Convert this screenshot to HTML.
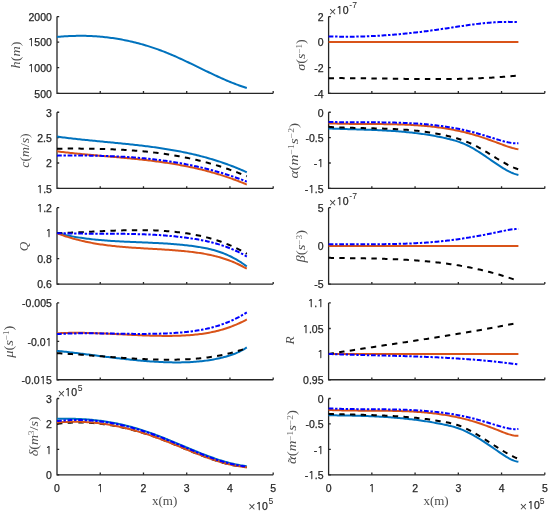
<!DOCTYPE html>
<html><head><meta charset="utf-8"><title>figure</title>
<style>
html,body{margin:0;padding:0;background:#fff;}
svg{display:block;}
.tk{font-family:"Liberation Sans",Arial,sans-serif;font-size:10.50px;fill:#262626;stroke:#262626;stroke-width:0.25px;}
.ex{font-family:"Liberation Sans",Arial,sans-serif;font-size:12.5px;fill:#444;}
.es{font-family:"Liberation Sans",Arial,sans-serif;font-size:8.6px;fill:#262626;}
.yl{font-family:"Liberation Serif","Times New Roman",serif;font-size:13.50px;fill:#4d4d4d;}
.yl .i{font-style:italic;}
.yl .s2{font-size:8.5px;fill:#6a6a6a;}
.n1{font-family:"NanumGothic","Liberation Sans",sans-serif;}
.xl{font-family:"Liberation Serif","Times New Roman",serif;font-size:13px;fill:#4d4d4d;}
</style></head>
<body>
<svg width="550" height="514" viewBox="0 0 550 514">
<rect width="550" height="514" fill="#fff"/>
<path d="M57.00,16.56 L57.00,93.30 L273.20,93.30" fill="none" stroke="#262626" stroke-width="1.30"/>
<path d="M57.00,93.30 h2.2 M57.00,67.72 h2.2 M57.00,42.14 h2.2 M57.00,16.56 h2.2 M100.24,93.30 v-2.2 M143.48,93.30 v-2.2 M186.72,93.30 v-2.2 M229.96,93.30 v-2.2 M273.20,93.30 v-2.2" fill="none" stroke="#262626" stroke-width="1.30"/>
<text class="tk" x="51.90" y="97.60" text-anchor="end">500</text>
<text class="tk" x="51.90" y="72.02" text-anchor="end"><tspan class="n1">1</tspan>000</text>
<text class="tk" x="51.90" y="46.44" text-anchor="end"><tspan class="n1">1</tspan>500</text>
<text class="tk" x="51.90" y="20.86" text-anchor="end">2000</text>
<path d="M57.00,37.01 L58.51,36.87 L60.01,36.73 L61.52,36.60 L63.03,36.48 L64.53,36.37 L66.04,36.27 L67.54,36.18 L69.05,36.10 L70.56,36.03 L72.06,35.97 L73.57,35.92 L75.08,35.88 L76.58,35.85 L78.09,35.83 L79.60,35.82 L81.10,35.81 L82.61,35.82 L84.11,35.84 L85.62,35.87 L87.13,35.91 L88.63,35.95 L90.14,36.01 L91.65,36.08 L93.15,36.16 L94.66,36.25 L96.17,36.35 L97.67,36.45 L99.18,36.57 L100.68,36.70 L102.19,36.84 L103.70,36.99 L105.20,37.15 L106.71,37.32 L108.22,37.50 L109.72,37.69 L111.23,37.89 L112.73,38.10 L114.24,38.33 L115.75,38.56 L117.25,38.80 L118.76,39.05 L120.27,39.32 L121.77,39.59 L123.28,39.88 L124.79,40.17 L126.29,40.48 L127.80,40.80 L129.30,41.12 L130.81,41.46 L132.32,41.81 L133.82,42.17 L135.33,42.54 L136.84,42.92 L138.34,43.31 L139.85,43.72 L141.36,44.13 L142.86,44.56 L144.37,44.99 L145.87,45.44 L147.38,45.90 L148.89,46.36 L150.39,46.84 L151.90,47.33 L153.41,47.84 L154.91,48.35 L156.42,48.87 L157.93,49.41 L159.43,49.95 L160.94,50.51 L162.44,51.08 L163.95,51.66 L165.46,52.25 L166.96,52.86 L168.47,53.47 L169.98,54.09 L171.48,54.73 L172.99,55.38 L174.50,56.03 L176.00,56.70 L177.51,57.37 L179.01,58.05 L180.52,58.74 L182.03,59.43 L183.53,60.14 L185.04,60.84 L186.55,61.56 L188.05,62.27 L189.56,62.99 L191.07,63.72 L192.57,64.45 L194.08,65.17 L195.58,65.91 L197.09,66.64 L198.60,67.37 L200.10,68.11 L201.61,68.84 L203.12,69.57 L204.62,70.30 L206.13,71.03 L207.63,71.76 L209.14,72.48 L210.65,73.20 L212.15,73.92 L213.66,74.63 L215.17,75.33 L216.67,76.03 L218.18,76.73 L219.69,77.41 L221.19,78.09 L222.70,78.76 L224.20,79.42 L225.71,80.07 L227.22,80.72 L228.72,81.35 L230.23,81.97 L231.74,82.58 L233.24,83.18 L234.75,83.76 L236.26,84.33 L237.76,84.89 L239.27,85.44 L240.77,85.97 L242.28,86.48 L243.79,86.98 L245.29,87.46 L246.80,87.92" fill="none" stroke="#0072BD" stroke-width="2.00"/>
<path d="M328.60,16.56 L328.60,93.30 L544.80,93.30" fill="none" stroke="#262626" stroke-width="1.30"/>
<path d="M328.60,93.30 h2.2 M328.60,67.72 h2.2 M328.60,42.14 h2.2 M328.60,16.56 h2.2 M371.84,93.30 v-2.2 M415.08,93.30 v-2.2 M458.32,93.30 v-2.2 M501.56,93.30 v-2.2 M544.80,93.30 v-2.2" fill="none" stroke="#262626" stroke-width="1.30"/>
<text class="tk" x="323.50" y="97.60" text-anchor="end">-4</text>
<text class="tk" x="323.50" y="72.02" text-anchor="end">-2</text>
<text class="tk" x="323.50" y="46.44" text-anchor="end">0</text>
<text class="tk" x="323.50" y="20.86" text-anchor="end">2</text>
<path d="M328.60,42.05 L518.40,42.05" fill="none" stroke="#D95319" stroke-width="2.00"/>
<path d="M328.60,78.16 L330.11,78.15 L331.61,78.14 L333.12,78.13 L334.63,78.13 L336.13,78.12 L337.64,78.12 L339.14,78.12 L340.65,78.12 L342.16,78.12 L343.66,78.13 L345.17,78.13 L346.68,78.14 L348.18,78.15 L349.69,78.15 L351.20,78.16 L352.70,78.18 L354.21,78.19 L355.71,78.20 L357.22,78.21 L358.73,78.23 L360.23,78.24 L361.74,78.26 L363.25,78.28 L364.75,78.30 L366.26,78.31 L367.77,78.33 L369.27,78.35 L370.78,78.37 L372.28,78.40 L373.79,78.42 L375.30,78.44 L376.80,78.46 L378.31,78.48 L379.82,78.51 L381.32,78.53 L382.83,78.55 L384.33,78.57 L385.84,78.60 L387.35,78.62 L388.85,78.64 L390.36,78.67 L391.87,78.69 L393.37,78.71 L394.88,78.74 L396.39,78.76 L397.89,78.78 L399.40,78.80 L400.90,78.82 L402.41,78.85 L403.92,78.87 L405.42,78.89 L406.93,78.91 L408.44,78.92 L409.94,78.94 L411.45,78.96 L412.96,78.98 L414.46,78.99 L415.97,79.01 L417.47,79.02 L418.98,79.04 L420.49,79.05 L421.99,79.06 L423.50,79.07 L425.01,79.08 L426.51,79.09 L428.02,79.09 L429.53,79.10 L431.03,79.10 L432.54,79.10 L434.04,79.11 L435.55,79.10 L437.06,79.10 L438.56,79.10 L440.07,79.09 L441.58,79.09 L443.08,79.08 L444.59,79.07 L446.10,79.06 L447.60,79.04 L449.11,79.03 L450.61,79.01 L452.12,78.99 L453.63,78.97 L455.13,78.95 L456.64,78.92 L458.15,78.89 L459.65,78.86 L461.16,78.83 L462.67,78.80 L464.17,78.76 L465.68,78.72 L467.18,78.68 L468.69,78.64 L470.20,78.59 L471.70,78.54 L473.21,78.49 L474.72,78.43 L476.22,78.38 L477.73,78.32 L479.23,78.25 L480.74,78.19 L482.25,78.12 L483.75,78.05 L485.26,77.97 L486.77,77.89 L488.27,77.81 L489.78,77.73 L491.29,77.64 L492.79,77.55 L494.30,77.46 L495.80,77.36 L497.31,77.26 L498.82,77.16 L500.32,77.05 L501.83,76.94 L503.34,76.83 L504.84,76.71 L506.35,76.59 L507.86,76.46 L509.36,76.33 L510.87,76.20 L512.37,76.07 L513.88,75.93 L515.39,75.78 L516.89,75.63 L518.40,75.48" fill="none" stroke="#000000" stroke-width="2.00" stroke-dasharray="5.4 5.3"/>
<path d="M328.60,36.38 L330.11,36.43 L331.61,36.48 L333.12,36.52 L334.63,36.56 L336.13,36.59 L337.64,36.62 L339.14,36.65 L340.65,36.67 L342.16,36.68 L343.66,36.69 L345.17,36.70 L346.68,36.70 L348.18,36.70 L349.69,36.69 L351.20,36.68 L352.70,36.66 L354.21,36.64 L355.71,36.61 L357.22,36.59 L358.73,36.55 L360.23,36.51 L361.74,36.47 L363.25,36.43 L364.75,36.38 L366.26,36.32 L367.77,36.26 L369.27,36.20 L370.78,36.13 L372.28,36.06 L373.79,35.99 L375.30,35.91 L376.80,35.83 L378.31,35.74 L379.82,35.65 L381.32,35.56 L382.83,35.46 L384.33,35.36 L385.84,35.26 L387.35,35.15 L388.85,35.04 L390.36,34.92 L391.87,34.80 L393.37,34.68 L394.88,34.55 L396.39,34.42 L397.89,34.29 L399.40,34.15 L400.90,34.01 L402.41,33.87 L403.92,33.72 L405.42,33.57 L406.93,33.42 L408.44,33.26 L409.94,33.10 L411.45,32.94 L412.96,32.77 L414.46,32.60 L415.97,32.43 L417.47,32.25 L418.98,32.08 L420.49,31.90 L421.99,31.71 L423.50,31.52 L425.01,31.33 L426.51,31.14 L428.02,30.94 L429.53,30.75 L431.03,30.55 L432.54,30.34 L434.04,30.13 L435.55,29.92 L437.06,29.71 L438.56,29.50 L440.07,29.28 L441.58,29.06 L443.08,28.84 L444.59,28.62 L446.10,28.39 L447.60,28.16 L449.11,27.94 L450.61,27.71 L452.12,27.48 L453.63,27.25 L455.13,27.02 L456.64,26.80 L458.15,26.57 L459.65,26.35 L461.16,26.12 L462.67,25.90 L464.17,25.68 L465.68,25.47 L467.18,25.26 L468.69,25.05 L470.20,24.84 L471.70,24.64 L473.21,24.44 L474.72,24.25 L476.22,24.06 L477.73,23.88 L479.23,23.70 L480.74,23.53 L482.25,23.37 L483.75,23.21 L485.26,23.06 L486.77,22.92 L488.27,22.78 L489.78,22.66 L491.29,22.54 L492.79,22.43 L494.30,22.33 L495.80,22.23 L497.31,22.15 L498.82,22.08 L500.32,22.02 L501.83,21.96 L503.34,21.92 L504.84,21.89 L506.35,21.88 L507.86,21.87 L509.36,21.88 L510.87,21.89 L512.37,21.93 L513.88,21.97 L515.39,22.03 L516.89,22.10 L518.40,22.19" fill="none" stroke="#0000FF" stroke-width="2.00" stroke-dasharray="4.8 1.7 2.4 1.7"/>
<path d="M57.00,112.26 L57.00,188.40 L273.20,188.40" fill="none" stroke="#262626" stroke-width="1.30"/>
<path d="M57.00,188.40 h2.2 M57.00,163.02 h2.2 M57.00,137.64 h2.2 M57.00,112.26 h2.2 M100.24,188.40 v-2.2 M143.48,188.40 v-2.2 M186.72,188.40 v-2.2 M229.96,188.40 v-2.2 M273.20,188.40 v-2.2" fill="none" stroke="#262626" stroke-width="1.30"/>
<text class="tk" x="51.90" y="192.70" text-anchor="end"><tspan class="n1">1</tspan>.5</text>
<text class="tk" x="51.90" y="167.32" text-anchor="end">2</text>
<text class="tk" x="51.90" y="141.94" text-anchor="end">2.5</text>
<text class="tk" x="51.90" y="116.56" text-anchor="end">3</text>
<path d="M57.00,136.60 L58.51,136.81 L60.01,137.01 L61.52,137.21 L63.03,137.40 L64.53,137.59 L66.04,137.78 L67.54,137.97 L69.05,138.15 L70.56,138.33 L72.06,138.50 L73.57,138.67 L75.08,138.84 L76.58,139.01 L78.09,139.18 L79.60,139.34 L81.10,139.50 L82.61,139.66 L84.11,139.82 L85.62,139.97 L87.13,140.12 L88.63,140.28 L90.14,140.43 L91.65,140.58 L93.15,140.72 L94.66,140.87 L96.17,141.02 L97.67,141.16 L99.18,141.31 L100.68,141.45 L102.19,141.60 L103.70,141.74 L105.20,141.88 L106.71,142.03 L108.22,142.17 L109.72,142.31 L111.23,142.46 L112.73,142.60 L114.24,142.75 L115.75,142.89 L117.25,143.04 L118.76,143.19 L120.27,143.33 L121.77,143.48 L123.28,143.63 L124.79,143.79 L126.29,143.94 L127.80,144.10 L129.30,144.25 L130.81,144.41 L132.32,144.58 L133.82,144.74 L135.33,144.90 L136.84,145.07 L138.34,145.24 L139.85,145.42 L141.36,145.59 L142.86,145.77 L144.37,145.96 L145.87,146.14 L147.38,146.33 L148.89,146.52 L150.39,146.72 L151.90,146.92 L153.41,147.12 L154.91,147.33 L156.42,147.54 L157.93,147.75 L159.43,147.97 L160.94,148.20 L162.44,148.42 L163.95,148.66 L165.46,148.90 L166.96,149.14 L168.47,149.39 L169.98,149.64 L171.48,149.90 L172.99,150.16 L174.50,150.43 L176.00,150.70 L177.51,150.98 L179.01,151.27 L180.52,151.56 L182.03,151.86 L183.53,152.16 L185.04,152.48 L186.55,152.79 L188.05,153.12 L189.56,153.45 L191.07,153.79 L192.57,154.13 L194.08,154.48 L195.58,154.84 L197.09,155.21 L198.60,155.58 L200.10,155.96 L201.61,156.35 L203.12,156.75 L204.62,157.15 L206.13,157.57 L207.63,157.99 L209.14,158.42 L210.65,158.86 L212.15,159.30 L213.66,159.76 L215.17,160.22 L216.67,160.69 L218.18,161.18 L219.69,161.67 L221.19,162.17 L222.70,162.68 L224.20,163.20 L225.71,163.73 L227.22,164.27 L228.72,164.82 L230.23,165.38 L231.74,165.95 L233.24,166.52 L234.75,167.12 L236.26,167.72 L237.76,168.33 L239.27,168.95 L240.77,169.58 L242.28,170.23 L243.79,170.88 L245.29,171.55 L246.80,172.23" fill="none" stroke="#0072BD" stroke-width="2.00"/>
<path d="M57.00,151.35 L58.51,151.53 L60.01,151.72 L61.52,151.90 L63.03,152.07 L64.53,152.25 L66.04,152.42 L67.54,152.59 L69.05,152.75 L70.56,152.91 L72.06,153.07 L73.57,153.23 L75.08,153.39 L76.58,153.54 L78.09,153.69 L79.60,153.84 L81.10,153.98 L82.61,154.13 L84.11,154.27 L85.62,154.41 L87.13,154.55 L88.63,154.69 L90.14,154.83 L91.65,154.96 L93.15,155.10 L94.66,155.23 L96.17,155.37 L97.67,155.50 L99.18,155.63 L100.68,155.76 L102.19,155.89 L103.70,156.03 L105.20,156.16 L106.71,156.29 L108.22,156.42 L109.72,156.55 L111.23,156.68 L112.73,156.82 L114.24,156.95 L115.75,157.08 L117.25,157.22 L118.76,157.35 L120.27,157.49 L121.77,157.63 L123.28,157.77 L124.79,157.91 L126.29,158.05 L127.80,158.19 L129.30,158.34 L130.81,158.49 L132.32,158.64 L133.82,158.79 L135.33,158.94 L136.84,159.10 L138.34,159.25 L139.85,159.42 L141.36,159.58 L142.86,159.75 L144.37,159.92 L145.87,160.09 L147.38,160.26 L148.89,160.44 L150.39,160.62 L151.90,160.81 L153.41,161.00 L154.91,161.19 L156.42,161.39 L157.93,161.59 L159.43,161.79 L160.94,162.00 L162.44,162.22 L163.95,162.43 L165.46,162.66 L166.96,162.88 L168.47,163.12 L169.98,163.35 L171.48,163.59 L172.99,163.84 L174.50,164.09 L176.00,164.35 L177.51,164.61 L179.01,164.88 L180.52,165.15 L182.03,165.43 L183.53,165.72 L185.04,166.01 L186.55,166.31 L188.05,166.61 L189.56,166.92 L191.07,167.24 L192.57,167.56 L194.08,167.89 L195.58,168.23 L197.09,168.57 L198.60,168.92 L200.10,169.28 L201.61,169.65 L203.12,170.02 L204.62,170.40 L206.13,170.79 L207.63,171.18 L209.14,171.59 L210.65,172.00 L212.15,172.42 L213.66,172.85 L215.17,173.28 L216.67,173.73 L218.18,174.18 L219.69,174.64 L221.19,175.11 L222.70,175.59 L224.20,176.08 L225.71,176.58 L227.22,177.08 L228.72,177.60 L230.23,178.13 L231.74,178.66 L233.24,179.21 L234.75,179.76 L236.26,180.33 L237.76,180.90 L239.27,181.49 L240.77,182.08 L242.28,182.69 L243.79,183.30 L245.29,183.93 L246.80,184.57" fill="none" stroke="#D95319" stroke-width="2.00"/>
<path d="M57.00,148.67 L58.51,148.66 L60.01,148.65 L61.52,148.64 L63.03,148.64 L64.53,148.63 L66.04,148.62 L67.54,148.62 L69.05,148.61 L70.56,148.61 L72.06,148.61 L73.57,148.61 L75.08,148.61 L76.58,148.61 L78.09,148.62 L79.60,148.62 L81.10,148.63 L82.61,148.64 L84.11,148.65 L85.62,148.66 L87.13,148.68 L88.63,148.70 L90.14,148.72 L91.65,148.74 L93.15,148.76 L94.66,148.79 L96.17,148.82 L97.67,148.85 L99.18,148.88 L100.68,148.92 L102.19,148.96 L103.70,149.00 L105.20,149.05 L106.71,149.10 L108.22,149.15 L109.72,149.20 L111.23,149.26 L112.73,149.32 L114.24,149.38 L115.75,149.45 L117.25,149.52 L118.76,149.60 L120.27,149.67 L121.77,149.76 L123.28,149.84 L124.79,149.93 L126.29,150.02 L127.80,150.12 L129.30,150.22 L130.81,150.33 L132.32,150.43 L133.82,150.55 L135.33,150.67 L136.84,150.79 L138.34,150.91 L139.85,151.04 L141.36,151.18 L142.86,151.32 L144.37,151.46 L145.87,151.61 L147.38,151.77 L148.89,151.93 L150.39,152.09 L151.90,152.26 L153.41,152.44 L154.91,152.62 L156.42,152.80 L157.93,152.99 L159.43,153.19 L160.94,153.39 L162.44,153.60 L163.95,153.81 L165.46,154.03 L166.96,154.25 L168.47,154.48 L169.98,154.72 L171.48,154.96 L172.99,155.21 L174.50,155.46 L176.00,155.72 L177.51,155.99 L179.01,156.26 L180.52,156.54 L182.03,156.83 L183.53,157.12 L185.04,157.42 L186.55,157.73 L188.05,158.04 L189.56,158.36 L191.07,158.69 L192.57,159.02 L194.08,159.36 L195.58,159.71 L197.09,160.06 L198.60,160.43 L200.10,160.80 L201.61,161.17 L203.12,161.56 L204.62,161.95 L206.13,162.35 L207.63,162.76 L209.14,163.17 L210.65,163.60 L212.15,164.03 L213.66,164.47 L215.17,164.91 L216.67,165.37 L218.18,165.83 L219.69,166.30 L221.19,166.78 L222.70,167.27 L224.20,167.77 L225.71,168.28 L227.22,168.79 L228.72,169.31 L230.23,169.84 L231.74,170.39 L233.24,170.94 L234.75,171.49 L236.26,172.06 L237.76,172.64 L239.27,173.22 L240.77,173.82 L242.28,174.42 L243.79,175.04 L245.29,175.66 L246.80,176.29" fill="none" stroke="#000000" stroke-width="2.00" stroke-dasharray="5.4 5.3"/>
<path d="M57.00,155.63 L58.51,155.62 L60.01,155.61 L61.52,155.59 L63.03,155.58 L64.53,155.57 L66.04,155.56 L67.54,155.55 L69.05,155.55 L70.56,155.54 L72.06,155.54 L73.57,155.54 L75.08,155.54 L76.58,155.54 L78.09,155.54 L79.60,155.55 L81.10,155.56 L82.61,155.57 L84.11,155.58 L85.62,155.59 L87.13,155.61 L88.63,155.62 L90.14,155.65 L91.65,155.67 L93.15,155.69 L94.66,155.72 L96.17,155.75 L97.67,155.78 L99.18,155.82 L100.68,155.85 L102.19,155.89 L103.70,155.94 L105.20,155.98 L106.71,156.03 L108.22,156.08 L109.72,156.14 L111.23,156.20 L112.73,156.26 L114.24,156.32 L115.75,156.39 L117.25,156.46 L118.76,156.53 L120.27,156.61 L121.77,156.69 L123.28,156.78 L124.79,156.87 L126.29,156.96 L127.80,157.05 L129.30,157.15 L130.81,157.26 L132.32,157.37 L133.82,157.48 L135.33,157.59 L136.84,157.71 L138.34,157.84 L139.85,157.96 L141.36,158.10 L142.86,158.23 L144.37,158.37 L145.87,158.52 L147.38,158.67 L148.89,158.83 L150.39,158.98 L151.90,159.15 L153.41,159.32 L154.91,159.49 L156.42,159.67 L157.93,159.85 L159.43,160.04 L160.94,160.24 L162.44,160.43 L163.95,160.64 L165.46,160.85 L166.96,161.06 L168.47,161.28 L169.98,161.51 L171.48,161.74 L172.99,161.97 L174.50,162.22 L176.00,162.46 L177.51,162.72 L179.01,162.98 L180.52,163.24 L182.03,163.51 L183.53,163.79 L185.04,164.07 L186.55,164.36 L188.05,164.66 L189.56,164.96 L191.07,165.26 L192.57,165.58 L194.08,165.90 L195.58,166.23 L197.09,166.56 L198.60,166.90 L200.10,167.24 L201.61,167.60 L203.12,167.96 L204.62,168.32 L206.13,168.70 L207.63,169.08 L209.14,169.47 L210.65,169.86 L212.15,170.26 L213.66,170.67 L215.17,171.09 L216.67,171.51 L218.18,171.94 L219.69,172.38 L221.19,172.82 L222.70,173.28 L224.20,173.74 L225.71,174.20 L227.22,174.68 L228.72,175.16 L230.23,175.66 L231.74,176.15 L233.24,176.66 L234.75,177.18 L236.26,177.70 L237.76,178.23 L239.27,178.77 L240.77,179.32 L242.28,179.87 L243.79,180.44 L245.29,181.01 L246.80,181.59" fill="none" stroke="#0000FF" stroke-width="2.00" stroke-dasharray="4.8 1.7 2.4 1.7"/>
<path d="M328.60,112.26 L328.60,188.40 L544.80,188.40" fill="none" stroke="#262626" stroke-width="1.30"/>
<path d="M328.60,188.40 h2.2 M328.60,163.02 h2.2 M328.60,137.64 h2.2 M328.60,112.26 h2.2 M371.84,188.40 v-2.2 M415.08,188.40 v-2.2 M458.32,188.40 v-2.2 M501.56,188.40 v-2.2 M544.80,188.40 v-2.2" fill="none" stroke="#262626" stroke-width="1.30"/>
<text class="tk" x="323.50" y="192.70" text-anchor="end">-<tspan class="n1">1</tspan>.5</text>
<text class="tk" x="323.50" y="167.32" text-anchor="end">-<tspan class="n1">1</tspan></text>
<text class="tk" x="323.50" y="141.94" text-anchor="end">-0.5</text>
<text class="tk" x="323.50" y="116.56" text-anchor="end">0</text>
<path d="M328.60,128.48 L330.11,128.54 L331.61,128.60 L333.12,128.66 L334.63,128.71 L336.13,128.76 L337.64,128.82 L339.14,128.87 L340.65,128.91 L342.16,128.96 L343.66,129.01 L345.17,129.06 L346.68,129.10 L348.18,129.15 L349.69,129.19 L351.20,129.23 L352.70,129.28 L354.21,129.32 L355.71,129.37 L357.22,129.41 L358.73,129.46 L360.23,129.50 L361.74,129.55 L363.25,129.60 L364.75,129.65 L366.26,129.70 L367.77,129.75 L369.27,129.81 L370.78,129.86 L372.28,129.92 L373.79,129.98 L375.30,130.04 L376.80,130.11 L378.31,130.17 L379.82,130.24 L381.32,130.31 L382.83,130.39 L384.33,130.47 L385.84,130.55 L387.35,130.64 L388.85,130.72 L390.36,130.82 L391.87,130.91 L393.37,131.02 L394.88,131.12 L396.39,131.23 L397.89,131.34 L399.40,131.46 L400.90,131.59 L402.41,131.71 L403.92,131.85 L405.42,131.99 L406.93,132.13 L408.44,132.28 L409.94,132.44 L411.45,132.60 L412.96,132.77 L414.46,132.94 L415.97,133.12 L417.47,133.31 L418.98,133.50 L420.49,133.70 L421.99,133.91 L423.50,134.13 L425.01,134.35 L426.51,134.58 L428.02,134.81 L429.53,135.06 L431.03,135.31 L432.54,135.57 L434.04,135.84 L435.55,136.12 L437.06,136.41 L438.56,136.70 L440.07,137.00 L441.58,137.32 L443.08,137.64 L444.59,137.97 L446.10,138.31 L447.60,138.66 L449.11,139.03 L450.61,139.41 L452.12,139.81 L453.63,140.22 L455.13,140.66 L456.64,141.13 L458.15,141.62 L459.65,142.14 L461.16,142.69 L462.67,143.27 L464.17,143.89 L465.68,144.55 L467.18,145.25 L468.69,145.98 L470.20,146.77 L471.70,147.59 L473.21,148.46 L474.72,149.36 L476.22,150.29 L477.73,151.23 L479.23,152.20 L480.74,153.18 L482.25,154.18 L483.75,155.19 L485.26,156.20 L486.77,157.23 L488.27,158.26 L489.78,159.29 L491.29,160.32 L492.79,161.35 L494.30,162.37 L495.80,163.39 L497.31,164.40 L498.82,165.39 L500.32,166.37 L501.83,167.34 L503.34,168.28 L504.84,169.18 L506.35,170.06 L507.86,170.88 L509.36,171.66 L510.87,172.38 L512.37,173.04 L513.88,173.63 L515.39,174.15 L516.89,174.58 L518.40,174.93" fill="none" stroke="#0072BD" stroke-width="2.00"/>
<path d="M328.60,123.34 L330.11,123.40 L331.61,123.46 L333.12,123.51 L334.63,123.56 L336.13,123.61 L337.64,123.65 L339.14,123.69 L340.65,123.72 L342.16,123.75 L343.66,123.78 L345.17,123.81 L346.68,123.84 L348.18,123.86 L349.69,123.88 L351.20,123.89 L352.70,123.91 L354.21,123.92 L355.71,123.94 L357.22,123.95 L358.73,123.96 L360.23,123.97 L361.74,123.98 L363.25,123.99 L364.75,123.99 L366.26,124.00 L367.77,124.01 L369.27,124.01 L370.78,124.02 L372.28,124.03 L373.79,124.04 L375.30,124.05 L376.80,124.06 L378.31,124.07 L379.82,124.08 L381.32,124.10 L382.83,124.11 L384.33,124.13 L385.84,124.15 L387.35,124.17 L388.85,124.20 L390.36,124.22 L391.87,124.25 L393.37,124.28 L394.88,124.32 L396.39,124.36 L397.89,124.40 L399.40,124.44 L400.90,124.49 L402.41,124.54 L403.92,124.60 L405.42,124.66 L406.93,124.73 L408.44,124.80 L409.94,124.87 L411.45,124.95 L412.96,125.04 L414.46,125.13 L415.97,125.22 L417.47,125.32 L418.98,125.43 L420.49,125.54 L421.99,125.66 L423.50,125.78 L425.01,125.91 L426.51,126.05 L428.02,126.20 L429.53,126.35 L431.03,126.51 L432.54,126.67 L434.04,126.85 L435.55,127.03 L437.06,127.22 L438.56,127.41 L440.07,127.62 L441.58,127.83 L443.08,128.06 L444.59,128.29 L446.10,128.53 L447.60,128.77 L449.11,129.03 L450.61,129.30 L452.12,129.58 L453.63,129.86 L455.13,130.16 L456.64,130.46 L458.15,130.78 L459.65,131.11 L461.16,131.45 L462.67,131.79 L464.17,132.15 L465.68,132.52 L467.18,132.91 L468.69,133.30 L470.20,133.70 L471.70,134.12 L473.21,134.55 L474.72,134.99 L476.22,135.44 L477.73,135.91 L479.23,136.38 L480.74,136.87 L482.25,137.37 L483.75,137.87 L485.26,138.39 L486.77,138.91 L488.27,139.45 L489.78,139.98 L491.29,140.53 L492.79,141.08 L494.30,141.63 L495.80,142.18 L497.31,142.74 L498.82,143.31 L500.32,143.87 L501.83,144.43 L503.34,144.99 L504.84,145.54 L506.35,146.07 L507.86,146.58 L509.36,147.07 L510.87,147.52 L512.37,147.94 L513.88,148.32 L515.39,148.66 L516.89,148.94 L518.40,149.17" fill="none" stroke="#D95319" stroke-width="2.00"/>
<path d="M328.60,126.87 L330.11,126.96 L331.61,127.05 L333.12,127.13 L334.63,127.21 L336.13,127.28 L337.64,127.35 L339.14,127.42 L340.65,127.48 L342.16,127.54 L343.66,127.59 L345.17,127.65 L346.68,127.70 L348.18,127.74 L349.69,127.79 L351.20,127.83 L352.70,127.87 L354.21,127.91 L355.71,127.95 L357.22,127.98 L358.73,128.02 L360.23,128.05 L361.74,128.09 L363.25,128.12 L364.75,128.15 L366.26,128.19 L367.77,128.22 L369.27,128.25 L370.78,128.29 L372.28,128.32 L373.79,128.36 L375.30,128.40 L376.80,128.44 L378.31,128.48 L379.82,128.52 L381.32,128.57 L382.83,128.61 L384.33,128.66 L385.84,128.72 L387.35,128.77 L388.85,128.83 L390.36,128.89 L391.87,128.96 L393.37,129.03 L394.88,129.10 L396.39,129.18 L397.89,129.26 L399.40,129.35 L400.90,129.44 L402.41,129.54 L403.92,129.64 L405.42,129.75 L406.93,129.87 L408.44,129.99 L409.94,130.11 L411.45,130.25 L412.96,130.39 L414.46,130.53 L415.97,130.69 L417.47,130.85 L418.98,131.01 L420.49,131.19 L421.99,131.37 L423.50,131.57 L425.01,131.77 L426.51,131.97 L428.02,132.19 L429.53,132.42 L431.03,132.65 L432.54,132.90 L434.04,133.15 L435.55,133.42 L437.06,133.69 L438.56,133.98 L440.07,134.27 L441.58,134.58 L443.08,134.90 L444.59,135.22 L446.10,135.56 L447.60,135.92 L449.11,136.28 L450.61,136.66 L452.12,137.05 L453.63,137.46 L455.13,137.89 L456.64,138.33 L458.15,138.80 L459.65,139.28 L461.16,139.78 L462.67,140.31 L464.17,140.86 L465.68,141.43 L467.18,142.02 L468.69,142.65 L470.20,143.29 L471.70,143.97 L473.21,144.67 L474.72,145.41 L476.22,146.17 L477.73,146.97 L479.23,147.79 L480.74,148.63 L482.25,149.50 L483.75,150.39 L485.26,151.30 L486.77,152.21 L488.27,153.14 L489.78,154.08 L491.29,155.01 L492.79,155.96 L494.30,156.89 L495.80,157.83 L497.31,158.76 L498.82,159.67 L500.32,160.58 L501.83,161.46 L503.34,162.33 L504.84,163.18 L506.35,164.00 L507.86,164.79 L509.36,165.55 L510.87,166.28 L512.37,166.97 L513.88,167.63 L515.39,168.24 L516.89,168.80 L518.40,169.31" fill="none" stroke="#000000" stroke-width="2.00" stroke-dasharray="5.4 5.3"/>
<path d="M328.60,121.96 L330.11,122.00 L331.61,122.03 L333.12,122.06 L334.63,122.09 L336.13,122.11 L337.64,122.13 L339.14,122.15 L340.65,122.17 L342.16,122.18 L343.66,122.20 L345.17,122.21 L346.68,122.22 L348.18,122.23 L349.69,122.23 L351.20,122.24 L352.70,122.25 L354.21,122.25 L355.71,122.26 L357.22,122.26 L358.73,122.26 L360.23,122.27 L361.74,122.27 L363.25,122.27 L364.75,122.28 L366.26,122.28 L367.77,122.28 L369.27,122.29 L370.78,122.29 L372.28,122.30 L373.79,122.31 L375.30,122.32 L376.80,122.33 L378.31,122.34 L379.82,122.35 L381.32,122.37 L382.83,122.38 L384.33,122.40 L385.84,122.42 L387.35,122.45 L388.85,122.47 L390.36,122.50 L391.87,122.53 L393.37,122.56 L394.88,122.60 L396.39,122.64 L397.89,122.69 L399.40,122.73 L400.90,122.78 L402.41,122.84 L403.92,122.90 L405.42,122.96 L406.93,123.03 L408.44,123.10 L409.94,123.17 L411.45,123.25 L412.96,123.34 L414.46,123.43 L415.97,123.52 L417.47,123.62 L418.98,123.73 L420.49,123.84 L421.99,123.95 L423.50,124.07 L425.01,124.20 L426.51,124.34 L428.02,124.48 L429.53,124.62 L431.03,124.78 L432.54,124.93 L434.04,125.10 L435.55,125.27 L437.06,125.45 L438.56,125.64 L440.07,125.84 L441.58,126.04 L443.08,126.25 L444.59,126.46 L446.10,126.69 L447.60,126.92 L449.11,127.16 L450.61,127.41 L452.12,127.67 L453.63,127.94 L455.13,128.21 L456.64,128.50 L458.15,128.79 L459.65,129.09 L461.16,129.41 L462.67,129.73 L464.17,130.06 L465.68,130.40 L467.18,130.75 L468.69,131.11 L470.20,131.48 L471.70,131.86 L473.21,132.25 L474.72,132.65 L476.22,133.07 L477.73,133.49 L479.23,133.92 L480.74,134.36 L482.25,134.81 L483.75,135.26 L485.26,135.72 L486.77,136.19 L488.27,136.65 L489.78,137.12 L491.29,137.59 L492.79,138.05 L494.30,138.52 L495.80,138.98 L497.31,139.44 L498.82,139.89 L500.32,140.34 L501.83,140.77 L503.34,141.20 L504.84,141.60 L506.35,141.97 L507.86,142.31 L509.36,142.61 L510.87,142.87 L512.37,143.07 L513.88,143.22 L515.39,143.30 L516.89,143.31 L518.40,143.24" fill="none" stroke="#0000FF" stroke-width="2.00" stroke-dasharray="4.8 1.7 2.4 1.7"/>
<path d="M57.00,207.70 L57.00,284.10 L273.20,284.10" fill="none" stroke="#262626" stroke-width="1.30"/>
<path d="M57.00,284.10 h2.2 M57.00,258.63 h2.2 M57.00,233.17 h2.2 M57.00,207.70 h2.2 M100.24,284.10 v-2.2 M143.48,284.10 v-2.2 M186.72,284.10 v-2.2 M229.96,284.10 v-2.2 M273.20,284.10 v-2.2" fill="none" stroke="#262626" stroke-width="1.30"/>
<text class="tk" x="51.90" y="288.40" text-anchor="end">0.6</text>
<text class="tk" x="51.90" y="262.93" text-anchor="end">0.8</text>
<text class="tk" x="51.90" y="237.47" text-anchor="end"><tspan class="n1">1</tspan></text>
<text class="tk" x="51.90" y="212.00" text-anchor="end"><tspan class="n1">1</tspan>.2</text>
<path d="M57.00,233.10 L58.51,233.48 L60.01,233.84 L61.52,234.19 L63.03,234.53 L64.53,234.86 L66.04,235.18 L67.54,235.49 L69.05,235.79 L70.56,236.08 L72.06,236.36 L73.57,236.63 L75.08,236.89 L76.58,237.14 L78.09,237.39 L79.60,237.62 L81.10,237.85 L82.61,238.06 L84.11,238.27 L85.62,238.47 L87.13,238.67 L88.63,238.85 L90.14,239.03 L91.65,239.20 L93.15,239.37 L94.66,239.53 L96.17,239.68 L97.67,239.83 L99.18,239.97 L100.68,240.10 L102.19,240.23 L103.70,240.35 L105.20,240.47 L106.71,240.59 L108.22,240.69 L109.72,240.80 L111.23,240.90 L112.73,241.00 L114.24,241.09 L115.75,241.18 L117.25,241.26 L118.76,241.35 L120.27,241.43 L121.77,241.50 L123.28,241.58 L124.79,241.65 L126.29,241.72 L127.80,241.79 L129.30,241.86 L130.81,241.92 L132.32,241.99 L133.82,242.05 L135.33,242.11 L136.84,242.17 L138.34,242.23 L139.85,242.30 L141.36,242.36 L142.86,242.42 L144.37,242.48 L145.87,242.54 L147.38,242.61 L148.89,242.67 L150.39,242.74 L151.90,242.81 L153.41,242.88 L154.91,242.95 L156.42,243.02 L157.93,243.10 L159.43,243.18 L160.94,243.26 L162.44,243.34 L163.95,243.43 L165.46,243.52 L166.96,243.62 L168.47,243.72 L169.98,243.82 L171.48,243.93 L172.99,244.04 L174.50,244.16 L176.00,244.28 L177.51,244.41 L179.01,244.54 L180.52,244.68 L182.03,244.82 L183.53,244.98 L185.04,245.13 L186.55,245.30 L188.05,245.47 L189.56,245.64 L191.07,245.83 L192.57,246.02 L194.08,246.22 L195.58,246.43 L197.09,246.65 L198.60,246.89 L200.10,247.13 L201.61,247.39 L203.12,247.67 L204.62,247.96 L206.13,248.26 L207.63,248.59 L209.14,248.93 L210.65,249.30 L212.15,249.68 L213.66,250.09 L215.17,250.52 L216.67,250.97 L218.18,251.44 L219.69,251.95 L221.19,252.48 L222.70,253.03 L224.20,253.62 L225.71,254.23 L227.22,254.88 L228.72,255.55 L230.23,256.26 L231.74,257.00 L233.24,257.78 L234.75,258.59 L236.26,259.44 L237.76,260.33 L239.27,261.25 L240.77,262.21 L242.28,263.22 L243.79,264.26 L245.29,265.35 L246.80,266.48" fill="none" stroke="#0072BD" stroke-width="2.00"/>
<path d="M57.00,233.22 L58.51,233.79 L60.01,234.35 L61.52,234.89 L63.03,235.42 L64.53,235.93 L66.04,236.43 L67.54,236.91 L69.05,237.38 L70.56,237.83 L72.06,238.27 L73.57,238.70 L75.08,239.11 L76.58,239.51 L78.09,239.90 L79.60,240.28 L81.10,240.64 L82.61,240.99 L84.11,241.33 L85.62,241.66 L87.13,241.98 L88.63,242.29 L90.14,242.58 L91.65,242.87 L93.15,243.15 L94.66,243.41 L96.17,243.67 L97.67,243.92 L99.18,244.16 L100.68,244.39 L102.19,244.61 L103.70,244.82 L105.20,245.02 L106.71,245.22 L108.22,245.41 L109.72,245.59 L111.23,245.77 L112.73,245.94 L114.24,246.10 L115.75,246.26 L117.25,246.41 L118.76,246.55 L120.27,246.69 L121.77,246.82 L123.28,246.95 L124.79,247.08 L126.29,247.20 L127.80,247.31 L129.30,247.42 L130.81,247.53 L132.32,247.64 L133.82,247.74 L135.33,247.84 L136.84,247.94 L138.34,248.03 L139.85,248.12 L141.36,248.21 L142.86,248.30 L144.37,248.39 L145.87,248.48 L147.38,248.56 L148.89,248.65 L150.39,248.73 L151.90,248.82 L153.41,248.90 L154.91,248.99 L156.42,249.07 L157.93,249.16 L159.43,249.25 L160.94,249.34 L162.44,249.43 L163.95,249.53 L165.46,249.63 L166.96,249.72 L168.47,249.83 L169.98,249.93 L171.48,250.04 L172.99,250.15 L174.50,250.27 L176.00,250.39 L177.51,250.52 L179.01,250.64 L180.52,250.78 L182.03,250.92 L183.53,251.06 L185.04,251.21 L186.55,251.37 L188.05,251.53 L189.56,251.70 L191.07,251.88 L192.57,252.06 L194.08,252.25 L195.58,252.45 L197.09,252.66 L198.60,252.88 L200.10,253.11 L201.61,253.35 L203.12,253.60 L204.62,253.87 L206.13,254.14 L207.63,254.43 L209.14,254.74 L210.65,255.06 L212.15,255.39 L213.66,255.74 L215.17,256.11 L216.67,256.49 L218.18,256.89 L219.69,257.32 L221.19,257.75 L222.70,258.21 L224.20,258.69 L225.71,259.19 L227.22,259.71 L228.72,260.26 L230.23,260.83 L231.74,261.42 L233.24,262.03 L234.75,262.67 L236.26,263.33 L237.76,264.02 L239.27,264.74 L240.77,265.48 L242.28,266.25 L243.79,267.05 L245.29,267.88 L246.80,268.74" fill="none" stroke="#D95319" stroke-width="2.00"/>
<path d="M57.00,233.12 L58.51,233.08 L60.01,233.04 L61.52,233.00 L63.03,232.95 L64.53,232.90 L66.04,232.85 L67.54,232.80 L69.05,232.74 L70.56,232.68 L72.06,232.62 L73.57,232.55 L75.08,232.49 L76.58,232.42 L78.09,232.35 L79.60,232.28 L81.10,232.21 L82.61,232.14 L84.11,232.07 L85.62,231.99 L87.13,231.92 L88.63,231.84 L90.14,231.77 L91.65,231.69 L93.15,231.62 L94.66,231.54 L96.17,231.47 L97.67,231.39 L99.18,231.32 L100.68,231.25 L102.19,231.17 L103.70,231.10 L105.20,231.03 L106.71,230.97 L108.22,230.90 L109.72,230.83 L111.23,230.77 L112.73,230.71 L114.24,230.65 L115.75,230.59 L117.25,230.54 L118.76,230.49 L120.27,230.44 L121.77,230.39 L123.28,230.35 L124.79,230.31 L126.29,230.27 L127.80,230.24 L129.30,230.21 L130.81,230.19 L132.32,230.16 L133.82,230.15 L135.33,230.13 L136.84,230.13 L138.34,230.12 L139.85,230.12 L141.36,230.13 L142.86,230.14 L144.37,230.16 L145.87,230.18 L147.38,230.20 L148.89,230.24 L150.39,230.28 L151.90,230.32 L153.41,230.37 L154.91,230.43 L156.42,230.49 L157.93,230.56 L159.43,230.64 L160.94,230.72 L162.44,230.81 L163.95,230.91 L165.46,231.01 L166.96,231.13 L168.47,231.25 L169.98,231.37 L171.48,231.51 L172.99,231.65 L174.50,231.81 L176.00,231.97 L177.51,232.14 L179.01,232.31 L180.52,232.50 L182.03,232.70 L183.53,232.90 L185.04,233.12 L186.55,233.34 L188.05,233.57 L189.56,233.82 L191.07,234.07 L192.57,234.33 L194.08,234.61 L195.58,234.89 L197.09,235.19 L198.60,235.50 L200.10,235.82 L201.61,236.15 L203.12,236.50 L204.62,236.86 L206.13,237.23 L207.63,237.62 L209.14,238.02 L210.65,238.43 L212.15,238.86 L213.66,239.31 L215.17,239.77 L216.67,240.25 L218.18,240.75 L219.69,241.26 L221.19,241.79 L222.70,242.34 L224.20,242.90 L225.71,243.49 L227.22,244.09 L228.72,244.71 L230.23,245.36 L231.74,246.02 L233.24,246.70 L234.75,247.40 L236.26,248.13 L237.76,248.88 L239.27,249.64 L240.77,250.43 L242.28,251.25 L243.79,252.08 L245.29,252.94 L246.80,253.83" fill="none" stroke="#000000" stroke-width="2.00" stroke-dasharray="5.4 5.3"/>
<path d="M57.00,233.14 L58.51,233.19 L60.01,233.23 L61.52,233.28 L63.03,233.32 L64.53,233.35 L66.04,233.39 L67.54,233.42 L69.05,233.45 L70.56,233.48 L72.06,233.50 L73.57,233.52 L75.08,233.54 L76.58,233.56 L78.09,233.58 L79.60,233.59 L81.10,233.61 L82.61,233.62 L84.11,233.63 L85.62,233.64 L87.13,233.65 L88.63,233.66 L90.14,233.66 L91.65,233.67 L93.15,233.68 L94.66,233.68 L96.17,233.69 L97.67,233.69 L99.18,233.70 L100.68,233.70 L102.19,233.70 L103.70,233.71 L105.20,233.71 L106.71,233.72 L108.22,233.73 L109.72,233.73 L111.23,233.74 L112.73,233.75 L114.24,233.76 L115.75,233.77 L117.25,233.78 L118.76,233.80 L120.27,233.81 L121.77,233.83 L123.28,233.85 L124.79,233.87 L126.29,233.89 L127.80,233.91 L129.30,233.94 L130.81,233.97 L132.32,234.00 L133.82,234.04 L135.33,234.07 L136.84,234.11 L138.34,234.15 L139.85,234.20 L141.36,234.25 L142.86,234.30 L144.37,234.36 L145.87,234.41 L147.38,234.48 L148.89,234.54 L150.39,234.61 L151.90,234.69 L153.41,234.77 L154.91,234.85 L156.42,234.94 L157.93,235.03 L159.43,235.12 L160.94,235.22 L162.44,235.33 L163.95,235.44 L165.46,235.55 L166.96,235.67 L168.47,235.80 L169.98,235.93 L171.48,236.07 L172.99,236.21 L174.50,236.36 L176.00,236.51 L177.51,236.67 L179.01,236.84 L180.52,237.01 L182.03,237.19 L183.53,237.37 L185.04,237.56 L186.55,237.76 L188.05,237.96 L189.56,238.18 L191.07,238.39 L192.57,238.62 L194.08,238.85 L195.58,239.10 L197.09,239.35 L198.60,239.61 L200.10,239.88 L201.61,240.17 L203.12,240.46 L204.62,240.77 L206.13,241.09 L207.63,241.42 L209.14,241.76 L210.65,242.12 L212.15,242.50 L213.66,242.89 L215.17,243.29 L216.67,243.72 L218.18,244.16 L219.69,244.61 L221.19,245.09 L222.70,245.58 L224.20,246.10 L225.71,246.63 L227.22,247.19 L228.72,247.76 L230.23,248.36 L231.74,248.98 L233.24,249.62 L234.75,250.29 L236.26,250.98 L237.76,251.69 L239.27,252.43 L240.77,253.19 L242.28,253.98 L243.79,254.80 L245.29,255.65 L246.80,256.52" fill="none" stroke="#0000FF" stroke-width="2.00" stroke-dasharray="4.8 1.7 2.4 1.7"/>
<path d="M328.60,207.70 L328.60,284.10 L544.80,284.10" fill="none" stroke="#262626" stroke-width="1.30"/>
<path d="M328.60,284.10 h2.2 M328.60,245.90 h2.2 M328.60,207.70 h2.2 M371.84,284.10 v-2.2 M415.08,284.10 v-2.2 M458.32,284.10 v-2.2 M501.56,284.10 v-2.2 M544.80,284.10 v-2.2" fill="none" stroke="#262626" stroke-width="1.30"/>
<text class="tk" x="323.50" y="288.40" text-anchor="end">-5</text>
<text class="tk" x="323.50" y="250.20" text-anchor="end">0</text>
<text class="tk" x="323.50" y="212.00" text-anchor="end">5</text>
<path d="M328.60,245.90 L518.40,245.90" fill="none" stroke="#D95319" stroke-width="2.00"/>
<path d="M328.60,257.85 L330.11,257.87 L331.61,257.89 L333.12,257.91 L334.63,257.93 L336.13,257.95 L337.64,257.97 L339.14,257.99 L340.65,258.01 L342.16,258.03 L343.66,258.05 L345.17,258.07 L346.68,258.09 L348.18,258.11 L349.69,258.13 L351.20,258.14 L352.70,258.17 L354.21,258.19 L355.71,258.21 L357.22,258.23 L358.73,258.25 L360.23,258.28 L361.74,258.30 L363.25,258.33 L364.75,258.35 L366.26,258.38 L367.77,258.41 L369.27,258.44 L370.78,258.47 L372.28,258.50 L373.79,258.54 L375.30,258.57 L376.80,258.61 L378.31,258.65 L379.82,258.69 L381.32,258.73 L382.83,258.78 L384.33,258.83 L385.84,258.88 L387.35,258.93 L388.85,258.98 L390.36,259.04 L391.87,259.10 L393.37,259.16 L394.88,259.22 L396.39,259.29 L397.89,259.36 L399.40,259.43 L400.90,259.51 L402.41,259.59 L403.92,259.67 L405.42,259.75 L406.93,259.84 L408.44,259.93 L409.94,260.03 L411.45,260.13 L412.96,260.23 L414.46,260.33 L415.97,260.44 L417.47,260.56 L418.98,260.67 L420.49,260.80 L421.99,260.92 L423.50,261.05 L425.01,261.18 L426.51,261.32 L428.02,261.46 L429.53,261.61 L431.03,261.76 L432.54,261.92 L434.04,262.08 L435.55,262.25 L437.06,262.42 L438.56,262.59 L440.07,262.77 L441.58,262.96 L443.08,263.15 L444.59,263.34 L446.10,263.55 L447.60,263.75 L449.11,263.96 L450.61,264.18 L452.12,264.41 L453.63,264.64 L455.13,264.87 L456.64,265.11 L458.15,265.36 L459.65,265.61 L461.16,265.87 L462.67,266.14 L464.17,266.41 L465.68,266.69 L467.18,266.97 L468.69,267.26 L470.20,267.56 L471.70,267.86 L473.21,268.18 L474.72,268.49 L476.22,268.82 L477.73,269.15 L479.23,269.49 L480.74,269.84 L482.25,270.19 L483.75,270.55 L485.26,270.92 L486.77,271.30 L488.27,271.68 L489.78,272.07 L491.29,272.47 L492.79,272.88 L494.30,273.29 L495.80,273.71 L497.31,274.14 L498.82,274.58 L500.32,275.03 L501.83,275.49 L503.34,275.95 L504.84,276.42 L506.35,276.90 L507.86,277.39 L509.36,277.89 L510.87,278.40 L512.37,278.91 L513.88,279.44 L515.39,279.97 L516.89,280.51 L518.40,281.07" fill="none" stroke="#000000" stroke-width="2.00" stroke-dasharray="5.4 5.3"/>
<path d="M328.60,244.15 L330.11,244.15 L331.61,244.15 L333.12,244.15 L334.63,244.15 L336.13,244.15 L337.64,244.16 L339.14,244.16 L340.65,244.16 L342.16,244.17 L343.66,244.18 L345.17,244.18 L346.68,244.19 L348.18,244.19 L349.69,244.20 L351.20,244.20 L352.70,244.21 L354.21,244.21 L355.71,244.22 L357.22,244.22 L358.73,244.23 L360.23,244.23 L361.74,244.23 L363.25,244.23 L364.75,244.24 L366.26,244.24 L367.77,244.24 L369.27,244.23 L370.78,244.23 L372.28,244.23 L373.79,244.22 L375.30,244.21 L376.80,244.20 L378.31,244.19 L379.82,244.18 L381.32,244.17 L382.83,244.15 L384.33,244.14 L385.84,244.12 L387.35,244.10 L388.85,244.07 L390.36,244.05 L391.87,244.02 L393.37,243.99 L394.88,243.96 L396.39,243.92 L397.89,243.88 L399.40,243.84 L400.90,243.80 L402.41,243.75 L403.92,243.70 L405.42,243.65 L406.93,243.59 L408.44,243.53 L409.94,243.47 L411.45,243.41 L412.96,243.34 L414.46,243.26 L415.97,243.19 L417.47,243.11 L418.98,243.02 L420.49,242.94 L421.99,242.84 L423.50,242.75 L425.01,242.65 L426.51,242.55 L428.02,242.44 L429.53,242.32 L431.03,242.21 L432.54,242.09 L434.04,241.96 L435.55,241.83 L437.06,241.69 L438.56,241.55 L440.07,241.41 L441.58,241.26 L443.08,241.10 L444.59,240.94 L446.10,240.77 L447.60,240.60 L449.11,240.42 L450.61,240.24 L452.12,240.05 L453.63,239.86 L455.13,239.66 L456.64,239.45 L458.15,239.24 L459.65,239.03 L461.16,238.80 L462.67,238.58 L464.17,238.34 L465.68,238.11 L467.18,237.86 L468.69,237.62 L470.20,237.36 L471.70,237.11 L473.21,236.85 L474.72,236.58 L476.22,236.31 L477.73,236.04 L479.23,235.76 L480.74,235.48 L482.25,235.20 L483.75,234.91 L485.26,234.62 L486.77,234.33 L488.27,234.03 L489.78,233.73 L491.29,233.43 L492.79,233.13 L494.30,232.82 L495.80,232.51 L497.31,232.20 L498.82,231.89 L500.32,231.58 L501.83,231.26 L503.34,230.94 L504.84,230.63 L506.35,230.33 L507.86,230.05 L509.36,229.78 L510.87,229.54 L512.37,229.34 L513.88,229.17 L515.39,229.05 L516.89,228.98 L518.40,228.96" fill="none" stroke="#0000FF" stroke-width="2.00" stroke-dasharray="4.8 1.7 2.4 1.7"/>
<path d="M57.00,302.90 L57.00,379.75 L273.20,379.75" fill="none" stroke="#262626" stroke-width="1.30"/>
<path d="M57.00,379.75 h2.2 M57.00,341.32 h2.2 M57.00,302.90 h2.2 M100.24,379.75 v-2.2 M143.48,379.75 v-2.2 M186.72,379.75 v-2.2 M229.96,379.75 v-2.2 M273.20,379.75 v-2.2" fill="none" stroke="#262626" stroke-width="1.30"/>
<text class="tk" x="51.90" y="384.05" text-anchor="end">-0.0<tspan class="n1">1</tspan>5</text>
<text class="tk" x="51.90" y="345.62" text-anchor="end">-0.0<tspan class="n1">1</tspan></text>
<text class="tk" x="51.90" y="307.20" text-anchor="end">-0.005</text>
<path d="M57.00,350.89 L58.51,351.04 L60.01,351.20 L61.52,351.36 L63.03,351.53 L64.53,351.69 L66.04,351.86 L67.54,352.03 L69.05,352.20 L70.56,352.38 L72.06,352.55 L73.57,352.73 L75.08,352.91 L76.58,353.10 L78.09,353.28 L79.60,353.47 L81.10,353.65 L82.61,353.84 L84.11,354.03 L85.62,354.22 L87.13,354.41 L88.63,354.60 L90.14,354.79 L91.65,354.98 L93.15,355.17 L94.66,355.36 L96.17,355.55 L97.67,355.75 L99.18,355.94 L100.68,356.13 L102.19,356.32 L103.70,356.51 L105.20,356.70 L106.71,356.89 L108.22,357.07 L109.72,357.26 L111.23,357.44 L112.73,357.63 L114.24,357.81 L115.75,357.99 L117.25,358.17 L118.76,358.34 L120.27,358.52 L121.77,358.69 L123.28,358.86 L124.79,359.03 L126.29,359.19 L127.80,359.36 L129.30,359.51 L130.81,359.67 L132.32,359.83 L133.82,359.98 L135.33,360.12 L136.84,360.27 L138.34,360.41 L139.85,360.55 L141.36,360.68 L142.86,360.81 L144.37,360.93 L145.87,361.05 L147.38,361.17 L148.89,361.28 L150.39,361.39 L151.90,361.49 L153.41,361.59 L154.91,361.69 L156.42,361.77 L157.93,361.86 L159.43,361.94 L160.94,362.01 L162.44,362.08 L163.95,362.14 L165.46,362.19 L166.96,362.24 L168.47,362.29 L169.98,362.33 L171.48,362.36 L172.99,362.38 L174.50,362.40 L176.00,362.41 L177.51,362.41 L179.01,362.41 L180.52,362.40 L182.03,362.37 L183.53,362.34 L185.04,362.30 L186.55,362.25 L188.05,362.20 L189.56,362.13 L191.07,362.05 L192.57,361.96 L194.08,361.86 L195.58,361.75 L197.09,361.62 L198.60,361.49 L200.10,361.34 L201.61,361.18 L203.12,361.01 L204.62,360.82 L206.13,360.62 L207.63,360.41 L209.14,360.18 L210.65,359.94 L212.15,359.68 L213.66,359.41 L215.17,359.12 L216.67,358.82 L218.18,358.50 L219.69,358.17 L221.19,357.82 L222.70,357.45 L224.20,357.07 L225.71,356.67 L227.22,356.24 L228.72,355.79 L230.23,355.32 L231.74,354.81 L233.24,354.27 L234.75,353.70 L236.26,353.08 L237.76,352.43 L239.27,351.73 L240.77,350.98 L242.28,350.18 L243.79,349.32 L245.29,348.41 L246.80,347.44" fill="none" stroke="#0072BD" stroke-width="2.00"/>
<path d="M57.00,333.28 L58.51,333.21 L60.01,333.14 L61.52,333.07 L63.03,333.02 L64.53,332.97 L66.04,332.93 L67.54,332.89 L69.05,332.86 L70.56,332.83 L72.06,332.82 L73.57,332.80 L75.08,332.80 L76.58,332.80 L78.09,332.80 L79.60,332.81 L81.10,332.82 L82.61,332.84 L84.11,332.86 L85.62,332.89 L87.13,332.92 L88.63,332.95 L90.14,332.99 L91.65,333.04 L93.15,333.08 L94.66,333.13 L96.17,333.18 L97.67,333.24 L99.18,333.30 L100.68,333.36 L102.19,333.42 L103.70,333.48 L105.20,333.55 L106.71,333.62 L108.22,333.69 L109.72,333.76 L111.23,333.84 L112.73,333.91 L114.24,333.99 L115.75,334.06 L117.25,334.14 L118.76,334.22 L120.27,334.30 L121.77,334.37 L123.28,334.45 L124.79,334.53 L126.29,334.61 L127.80,334.68 L129.30,334.76 L130.81,334.83 L132.32,334.91 L133.82,334.98 L135.33,335.05 L136.84,335.12 L138.34,335.19 L139.85,335.26 L141.36,335.32 L142.86,335.38 L144.37,335.44 L145.87,335.50 L147.38,335.55 L148.89,335.60 L150.39,335.65 L151.90,335.69 L153.41,335.73 L154.91,335.77 L156.42,335.80 L157.93,335.83 L159.43,335.85 L160.94,335.87 L162.44,335.89 L163.95,335.90 L165.46,335.91 L166.96,335.91 L168.47,335.90 L169.98,335.89 L171.48,335.88 L172.99,335.85 L174.50,335.83 L176.00,335.79 L177.51,335.75 L179.01,335.71 L180.52,335.65 L182.03,335.59 L183.53,335.52 L185.04,335.44 L186.55,335.35 L188.05,335.26 L189.56,335.15 L191.07,335.03 L192.57,334.91 L194.08,334.77 L195.58,334.62 L197.09,334.45 L198.60,334.28 L200.10,334.09 L201.61,333.89 L203.12,333.68 L204.62,333.45 L206.13,333.20 L207.63,332.94 L209.14,332.67 L210.65,332.38 L212.15,332.07 L213.66,331.75 L215.17,331.41 L216.67,331.05 L218.18,330.67 L219.69,330.27 L221.19,329.86 L222.70,329.42 L224.20,328.97 L225.71,328.49 L227.22,328.00 L228.72,327.48 L230.23,326.94 L231.74,326.38 L233.24,325.80 L234.75,325.19 L236.26,324.56 L237.76,323.91 L239.27,323.23 L240.77,322.53 L242.28,321.80 L243.79,321.05 L245.29,320.27 L246.80,319.46" fill="none" stroke="#D95319" stroke-width="2.00"/>
<path d="M57.00,353.18 L58.51,353.26 L60.01,353.34 L61.52,353.42 L63.03,353.51 L64.53,353.60 L66.04,353.69 L67.54,353.78 L69.05,353.88 L70.56,353.98 L72.06,354.08 L73.57,354.18 L75.08,354.28 L76.58,354.39 L78.09,354.49 L79.60,354.60 L81.10,354.71 L82.61,354.82 L84.11,354.94 L85.62,355.05 L87.13,355.16 L88.63,355.28 L90.14,355.39 L91.65,355.51 L93.15,355.63 L94.66,355.74 L96.17,355.86 L97.67,355.98 L99.18,356.09 L100.68,356.21 L102.19,356.33 L103.70,356.45 L105.20,356.56 L106.71,356.68 L108.22,356.79 L109.72,356.91 L111.23,357.02 L112.73,357.13 L114.24,357.25 L115.75,357.36 L117.25,357.47 L118.76,357.58 L120.27,357.68 L121.77,357.79 L123.28,357.89 L124.79,357.99 L126.29,358.09 L127.80,358.19 L129.30,358.29 L130.81,358.38 L132.32,358.47 L133.82,358.56 L135.33,358.65 L136.84,358.73 L138.34,358.81 L139.85,358.89 L141.36,358.96 L142.86,359.04 L144.37,359.11 L145.87,359.17 L147.38,359.23 L148.89,359.29 L150.39,359.35 L151.90,359.40 L153.41,359.45 L154.91,359.49 L156.42,359.53 L157.93,359.57 L159.43,359.60 L160.94,359.63 L162.44,359.65 L163.95,359.67 L165.46,359.68 L166.96,359.69 L168.47,359.69 L169.98,359.69 L171.48,359.68 L172.99,359.67 L174.50,359.66 L176.00,359.63 L177.51,359.60 L179.01,359.57 L180.52,359.53 L182.03,359.48 L183.53,359.42 L185.04,359.36 L186.55,359.29 L188.05,359.21 L189.56,359.13 L191.07,359.04 L192.57,358.94 L194.08,358.83 L195.58,358.71 L197.09,358.58 L198.60,358.45 L200.10,358.30 L201.61,358.15 L203.12,357.98 L204.62,357.81 L206.13,357.62 L207.63,357.43 L209.14,357.22 L210.65,357.01 L212.15,356.78 L213.66,356.54 L215.17,356.29 L216.67,356.03 L218.18,355.76 L219.69,355.47 L221.19,355.17 L222.70,354.86 L224.20,354.54 L225.71,354.21 L227.22,353.86 L228.72,353.50 L230.23,353.12 L231.74,352.73 L233.24,352.33 L234.75,351.91 L236.26,351.48 L237.76,351.03 L239.27,350.57 L240.77,350.09 L242.28,349.60 L243.79,349.09 L245.29,348.57 L246.80,348.03" fill="none" stroke="#000000" stroke-width="2.00" stroke-dasharray="5.4 5.3"/>
<path d="M57.00,334.04 L58.51,333.96 L60.01,333.89 L61.52,333.82 L63.03,333.76 L64.53,333.70 L66.04,333.64 L67.54,333.59 L69.05,333.55 L70.56,333.51 L72.06,333.47 L73.57,333.44 L75.08,333.41 L76.58,333.39 L78.09,333.37 L79.60,333.35 L81.10,333.34 L82.61,333.33 L84.11,333.32 L85.62,333.32 L87.13,333.32 L88.63,333.32 L90.14,333.32 L91.65,333.33 L93.15,333.34 L94.66,333.35 L96.17,333.36 L97.67,333.38 L99.18,333.40 L100.68,333.41 L102.19,333.43 L103.70,333.45 L105.20,333.47 L106.71,333.50 L108.22,333.52 L109.72,333.54 L111.23,333.57 L112.73,333.59 L114.24,333.62 L115.75,333.64 L117.25,333.67 L118.76,333.69 L120.27,333.71 L121.77,333.74 L123.28,333.76 L124.79,333.78 L126.29,333.80 L127.80,333.82 L129.30,333.84 L130.81,333.85 L132.32,333.87 L133.82,333.88 L135.33,333.89 L136.84,333.90 L138.34,333.90 L139.85,333.91 L141.36,333.91 L142.86,333.91 L144.37,333.90 L145.87,333.89 L147.38,333.88 L148.89,333.87 L150.39,333.85 L151.90,333.83 L153.41,333.80 L154.91,333.77 L156.42,333.74 L157.93,333.70 L159.43,333.66 L160.94,333.62 L162.44,333.56 L163.95,333.51 L165.46,333.45 L166.96,333.38 L168.47,333.31 L169.98,333.23 L171.48,333.15 L172.99,333.06 L174.50,332.97 L176.00,332.87 L177.51,332.76 L179.01,332.65 L180.52,332.53 L182.03,332.40 L183.53,332.26 L185.04,332.12 L186.55,331.96 L188.05,331.80 L189.56,331.63 L191.07,331.44 L192.57,331.24 L194.08,331.04 L195.58,330.82 L197.09,330.58 L198.60,330.34 L200.10,330.08 L201.61,329.80 L203.12,329.51 L204.62,329.21 L206.13,328.89 L207.63,328.55 L209.14,328.20 L210.65,327.83 L212.15,327.44 L213.66,327.03 L215.17,326.60 L216.67,326.16 L218.18,325.69 L219.69,325.21 L221.19,324.70 L222.70,324.17 L224.20,323.62 L225.71,323.05 L227.22,322.46 L228.72,321.84 L230.23,321.19 L231.74,320.53 L233.24,319.83 L234.75,319.12 L236.26,318.37 L237.76,317.60 L239.27,316.81 L240.77,315.98 L242.28,315.13 L243.79,314.25 L245.29,313.34 L246.80,312.40" fill="none" stroke="#0000FF" stroke-width="2.00" stroke-dasharray="4.8 1.7 2.4 1.7"/>
<path d="M328.60,302.90 L328.60,379.75 L544.80,379.75" fill="none" stroke="#262626" stroke-width="1.30"/>
<path d="M328.60,379.75 h2.2 M328.60,354.13 h2.2 M328.60,328.52 h2.2 M328.60,302.90 h2.2 M371.84,379.75 v-2.2 M415.08,379.75 v-2.2 M458.32,379.75 v-2.2 M501.56,379.75 v-2.2 M544.80,379.75 v-2.2" fill="none" stroke="#262626" stroke-width="1.30"/>
<text class="tk" x="323.50" y="384.05" text-anchor="end">0.95</text>
<text class="tk" x="323.50" y="358.43" text-anchor="end"><tspan class="n1">1</tspan></text>
<text class="tk" x="323.50" y="332.82" text-anchor="end"><tspan class="n1">1</tspan>.05</text>
<text class="tk" x="323.50" y="307.20" text-anchor="end"><tspan class="n1">1</tspan>.<tspan class="n1">1</tspan></text>
<path d="M328.60,354.00 L518.40,354.00" fill="none" stroke="#D95319" stroke-width="2.00"/>
<path d="M328.60,354.00 L330.11,353.76 L331.61,353.51 L333.12,353.27 L334.63,353.03 L336.13,352.79 L337.64,352.55 L339.14,352.31 L340.65,352.07 L342.16,351.83 L343.66,351.59 L345.17,351.36 L346.68,351.12 L348.18,350.89 L349.69,350.65 L351.20,350.42 L352.70,350.18 L354.21,349.95 L355.71,349.71 L357.22,349.48 L358.73,349.25 L360.23,349.02 L361.74,348.79 L363.25,348.55 L364.75,348.32 L366.26,348.09 L367.77,347.86 L369.27,347.63 L370.78,347.40 L372.28,347.17 L373.79,346.94 L375.30,346.71 L376.80,346.49 L378.31,346.26 L379.82,346.03 L381.32,345.80 L382.83,345.57 L384.33,345.34 L385.84,345.11 L387.35,344.89 L388.85,344.66 L390.36,344.43 L391.87,344.20 L393.37,343.97 L394.88,343.74 L396.39,343.52 L397.89,343.29 L399.40,343.06 L400.90,342.83 L402.41,342.60 L403.92,342.37 L405.42,342.14 L406.93,341.91 L408.44,341.68 L409.94,341.45 L411.45,341.22 L412.96,340.99 L414.46,340.76 L415.97,340.53 L417.47,340.29 L418.98,340.06 L420.49,339.83 L421.99,339.59 L423.50,339.36 L425.01,339.13 L426.51,338.89 L428.02,338.66 L429.53,338.42 L431.03,338.18 L432.54,337.95 L434.04,337.71 L435.55,337.47 L437.06,337.23 L438.56,336.99 L440.07,336.75 L441.58,336.51 L443.08,336.27 L444.59,336.03 L446.10,335.78 L447.60,335.54 L449.11,335.30 L450.61,335.05 L452.12,334.80 L453.63,334.56 L455.13,334.31 L456.64,334.06 L458.15,333.81 L459.65,333.56 L461.16,333.30 L462.67,333.05 L464.17,332.80 L465.68,332.54 L467.18,332.29 L468.69,332.03 L470.20,331.77 L471.70,331.51 L473.21,331.25 L474.72,330.99 L476.22,330.73 L477.73,330.46 L479.23,330.20 L480.74,329.93 L482.25,329.66 L483.75,329.39 L485.26,329.12 L486.77,328.85 L488.27,328.58 L489.78,328.30 L491.29,328.03 L492.79,327.75 L494.30,327.47 L495.80,327.19 L497.31,326.91 L498.82,326.63 L500.32,326.34 L501.83,326.05 L503.34,325.77 L504.84,325.48 L506.35,325.19 L507.86,324.89 L509.36,324.60 L510.87,324.30 L512.37,324.01 L513.88,323.71 L515.39,323.41 L516.89,323.10 L518.40,322.80" fill="none" stroke="#000000" stroke-width="2.00" stroke-dasharray="5.4 5.3"/>
<path d="M328.60,353.98 L330.11,354.04 L331.61,354.09 L333.12,354.14 L334.63,354.20 L336.13,354.25 L337.64,354.30 L339.14,354.35 L340.65,354.40 L342.16,354.44 L343.66,354.49 L345.17,354.54 L346.68,354.58 L348.18,354.62 L349.69,354.67 L351.20,354.71 L352.70,354.75 L354.21,354.80 L355.71,354.84 L357.22,354.88 L358.73,354.92 L360.23,354.96 L361.74,355.00 L363.25,355.04 L364.75,355.08 L366.26,355.12 L367.77,355.15 L369.27,355.19 L370.78,355.23 L372.28,355.27 L373.79,355.31 L375.30,355.35 L376.80,355.38 L378.31,355.42 L379.82,355.46 L381.32,355.50 L382.83,355.54 L384.33,355.58 L385.84,355.62 L387.35,355.66 L388.85,355.69 L390.36,355.74 L391.87,355.78 L393.37,355.82 L394.88,355.86 L396.39,355.90 L397.89,355.94 L399.40,355.99 L400.90,356.03 L402.41,356.07 L403.92,356.12 L405.42,356.16 L406.93,356.21 L408.44,356.26 L409.94,356.31 L411.45,356.36 L412.96,356.41 L414.46,356.46 L415.97,356.51 L417.47,356.56 L418.98,356.62 L420.49,356.67 L421.99,356.73 L423.50,356.79 L425.01,356.84 L426.51,356.90 L428.02,356.97 L429.53,357.03 L431.03,357.09 L432.54,357.16 L434.04,357.23 L435.55,357.29 L437.06,357.36 L438.56,357.44 L440.07,357.51 L441.58,357.58 L443.08,357.66 L444.59,357.74 L446.10,357.82 L447.60,357.90 L449.11,357.99 L450.61,358.07 L452.12,358.16 L453.63,358.25 L455.13,358.34 L456.64,358.43 L458.15,358.53 L459.65,358.63 L461.16,358.73 L462.67,358.83 L464.17,358.94 L465.68,359.04 L467.18,359.15 L468.69,359.26 L470.20,359.38 L471.70,359.49 L473.21,359.61 L474.72,359.73 L476.22,359.86 L477.73,359.98 L479.23,360.11 L480.74,360.24 L482.25,360.38 L483.75,360.51 L485.26,360.65 L486.77,360.80 L488.27,360.94 L489.78,361.09 L491.29,361.24 L492.79,361.39 L494.30,361.55 L495.80,361.71 L497.31,361.87 L498.82,362.04 L500.32,362.21 L501.83,362.38 L503.34,362.56 L504.84,362.74 L506.35,362.92 L507.86,363.11 L509.36,363.29 L510.87,363.49 L512.37,363.68 L513.88,363.88 L515.39,364.09 L516.89,364.29 L518.40,364.50" fill="none" stroke="#0000FF" stroke-width="2.00" stroke-dasharray="4.8 1.7 2.4 1.7"/>
<path d="M57.00,398.50 L57.00,474.80 L273.20,474.80" fill="none" stroke="#262626" stroke-width="1.30"/>
<path d="M57.00,474.80 h2.2 M57.00,449.37 h2.2 M57.00,423.93 h2.2 M57.00,398.50 h2.2 M100.24,474.80 v-2.2 M143.48,474.80 v-2.2 M186.72,474.80 v-2.2 M229.96,474.80 v-2.2 M273.20,474.80 v-2.2" fill="none" stroke="#262626" stroke-width="1.30"/>
<text class="tk" x="51.90" y="479.10" text-anchor="end">0</text>
<text class="tk" x="51.90" y="453.67" text-anchor="end"><tspan class="n1">1</tspan></text>
<text class="tk" x="51.90" y="428.23" text-anchor="end">2</text>
<text class="tk" x="51.90" y="402.80" text-anchor="end">3</text>
<text class="tk" x="57.00" y="491.60" text-anchor="middle">0</text>
<text class="tk" x="100.24" y="491.60" text-anchor="middle"><tspan class="n1">1</tspan></text>
<text class="tk" x="143.48" y="491.60" text-anchor="middle">2</text>
<text class="tk" x="186.72" y="491.60" text-anchor="middle">3</text>
<text class="tk" x="229.96" y="491.60" text-anchor="middle">4</text>
<text class="tk" x="273.20" y="491.60" text-anchor="middle">5</text>
<path d="M57.00,423.73 L58.51,423.56 L60.01,423.40 L61.52,423.25 L63.03,423.12 L64.53,422.99 L66.04,422.89 L67.54,422.79 L69.05,422.71 L70.56,422.64 L72.06,422.58 L73.57,422.54 L75.08,422.51 L76.58,422.49 L78.09,422.48 L79.60,422.49 L81.10,422.50 L82.61,422.53 L84.11,422.58 L85.62,422.63 L87.13,422.70 L88.63,422.77 L90.14,422.86 L91.65,422.97 L93.15,423.08 L94.66,423.20 L96.17,423.34 L97.67,423.49 L99.18,423.65 L100.68,423.82 L102.19,424.00 L103.70,424.20 L105.20,424.40 L106.71,424.62 L108.22,424.84 L109.72,425.08 L111.23,425.33 L112.73,425.59 L114.24,425.86 L115.75,426.14 L117.25,426.43 L118.76,426.73 L120.27,427.04 L121.77,427.37 L123.28,427.70 L124.79,428.04 L126.29,428.40 L127.80,428.76 L129.30,429.13 L130.81,429.51 L132.32,429.91 L133.82,430.31 L135.33,430.72 L136.84,431.14 L138.34,431.57 L139.85,432.02 L141.36,432.47 L142.86,432.92 L144.37,433.39 L145.87,433.87 L147.38,434.36 L148.89,434.85 L150.39,435.36 L151.90,435.87 L153.41,436.40 L154.91,436.93 L156.42,437.47 L157.93,438.02 L159.43,438.57 L160.94,439.14 L162.44,439.71 L163.95,440.29 L165.46,440.88 L166.96,441.47 L168.47,442.07 L169.98,442.67 L171.48,443.28 L172.99,443.89 L174.50,444.51 L176.00,445.13 L177.51,445.75 L179.01,446.37 L180.52,447.00 L182.03,447.62 L183.53,448.24 L185.04,448.87 L186.55,449.49 L188.05,450.11 L189.56,450.73 L191.07,451.35 L192.57,451.96 L194.08,452.57 L195.58,453.17 L197.09,453.77 L198.60,454.37 L200.10,454.96 L201.61,455.54 L203.12,456.12 L204.62,456.68 L206.13,457.24 L207.63,457.79 L209.14,458.33 L210.65,458.86 L212.15,459.39 L213.66,459.90 L215.17,460.39 L216.67,460.88 L218.18,461.35 L219.69,461.81 L221.19,462.26 L222.70,462.69 L224.20,463.11 L225.71,463.51 L227.22,463.90 L228.72,464.27 L230.23,464.62 L231.74,464.96 L233.24,465.28 L234.75,465.57 L236.26,465.85 L237.76,466.11 L239.27,466.35 L240.77,466.57 L242.28,466.77 L243.79,466.94 L245.29,467.10 L246.80,467.22" fill="none" stroke="#000000" stroke-width="2.00" stroke-dasharray="5.4 5.3"/>
<path d="M57.00,418.84 L58.51,418.80 L60.01,418.78 L61.52,418.75 L63.03,418.74 L64.53,418.73 L66.04,418.73 L67.54,418.74 L69.05,418.75 L70.56,418.77 L72.06,418.79 L73.57,418.82 L75.08,418.87 L76.58,418.91 L78.09,418.97 L79.60,419.03 L81.10,419.10 L82.61,419.18 L84.11,419.27 L85.62,419.37 L87.13,419.47 L88.63,419.59 L90.14,419.71 L91.65,419.84 L93.15,419.98 L94.66,420.13 L96.17,420.29 L97.67,420.45 L99.18,420.63 L100.68,420.82 L102.19,421.01 L103.70,421.22 L105.20,421.44 L106.71,421.66 L108.22,421.90 L109.72,422.15 L111.23,422.41 L112.73,422.68 L114.24,422.96 L115.75,423.25 L117.25,423.55 L118.76,423.87 L120.27,424.19 L121.77,424.53 L123.28,424.88 L124.79,425.23 L126.29,425.60 L127.80,425.99 L129.30,426.38 L130.81,426.78 L132.32,427.19 L133.82,427.62 L135.33,428.05 L136.84,428.49 L138.34,428.95 L139.85,429.41 L141.36,429.88 L142.86,430.36 L144.37,430.86 L145.87,431.36 L147.38,431.87 L148.89,432.38 L150.39,432.91 L151.90,433.45 L153.41,433.99 L154.91,434.54 L156.42,435.10 L157.93,435.67 L159.43,436.24 L160.94,436.82 L162.44,437.41 L163.95,438.01 L165.46,438.61 L166.96,439.22 L168.47,439.83 L169.98,440.45 L171.48,441.07 L172.99,441.69 L174.50,442.32 L176.00,442.95 L177.51,443.58 L179.01,444.22 L180.52,444.85 L182.03,445.49 L183.53,446.12 L185.04,446.76 L186.55,447.39 L188.05,448.02 L189.56,448.65 L191.07,449.28 L192.57,449.91 L194.08,450.53 L195.58,451.14 L197.09,451.76 L198.60,452.37 L200.10,452.97 L201.61,453.56 L203.12,454.16 L204.62,454.74 L206.13,455.31 L207.63,455.88 L209.14,456.44 L210.65,456.99 L212.15,457.53 L213.66,458.06 L215.17,458.58 L216.67,459.09 L218.18,459.59 L219.69,460.08 L221.19,460.55 L222.70,461.01 L224.20,461.46 L225.71,461.90 L227.22,462.32 L228.72,462.72 L230.23,463.11 L231.74,463.48 L233.24,463.84 L234.75,464.18 L236.26,464.50 L237.76,464.81 L239.27,465.09 L240.77,465.36 L242.28,465.61 L243.79,465.84 L245.29,466.05 L246.80,466.23" fill="none" stroke="#0072BD" stroke-width="2.00"/>
<path d="M57.00,422.61 L58.51,422.47 L60.01,422.34 L61.52,422.22 L63.03,422.12 L64.53,422.02 L66.04,421.95 L67.54,421.88 L69.05,421.83 L70.56,421.78 L72.06,421.76 L73.57,421.74 L75.08,421.74 L76.58,421.74 L78.09,421.76 L79.60,421.80 L81.10,421.84 L82.61,421.90 L84.11,421.96 L85.62,422.04 L87.13,422.13 L88.63,422.24 L90.14,422.35 L91.65,422.48 L93.15,422.61 L94.66,422.76 L96.17,422.92 L97.67,423.09 L99.18,423.27 L100.68,423.46 L102.19,423.67 L103.70,423.88 L105.20,424.10 L106.71,424.34 L108.22,424.58 L109.72,424.84 L111.23,425.11 L112.73,425.38 L114.24,425.67 L115.75,425.97 L117.25,426.27 L118.76,426.59 L120.27,426.92 L121.77,427.25 L123.28,427.60 L124.79,427.96 L126.29,428.32 L127.80,428.70 L129.30,429.08 L130.81,429.48 L132.32,429.88 L133.82,430.29 L135.33,430.72 L136.84,431.15 L138.34,431.59 L139.85,432.04 L141.36,432.49 L142.86,432.96 L144.37,433.44 L145.87,433.92 L147.38,434.41 L148.89,434.91 L150.39,435.42 L151.90,435.94 L153.41,436.46 L154.91,437.00 L156.42,437.54 L157.93,438.09 L159.43,438.65 L160.94,439.21 L162.44,439.78 L163.95,440.36 L165.46,440.95 L166.96,441.54 L168.47,442.14 L169.98,442.74 L171.48,443.34 L172.99,443.95 L174.50,444.56 L176.00,445.18 L177.51,445.79 L179.01,446.41 L180.52,447.03 L182.03,447.65 L183.53,448.26 L185.04,448.88 L186.55,449.50 L188.05,450.12 L189.56,450.73 L191.07,451.34 L192.57,451.95 L194.08,452.55 L195.58,453.15 L197.09,453.74 L198.60,454.33 L200.10,454.92 L201.61,455.49 L203.12,456.06 L204.62,456.63 L206.13,457.18 L207.63,457.73 L209.14,458.27 L210.65,458.79 L212.15,459.31 L213.66,459.82 L215.17,460.32 L216.67,460.80 L218.18,461.28 L219.69,461.74 L221.19,462.18 L222.70,462.62 L224.20,463.04 L225.71,463.44 L227.22,463.83 L228.72,464.21 L230.23,464.56 L231.74,464.91 L233.24,465.23 L234.75,465.54 L236.26,465.82 L237.76,466.09 L239.27,466.34 L240.77,466.57 L242.28,466.78 L243.79,466.97 L245.29,467.14 L246.80,467.28" fill="none" stroke="#D95319" stroke-width="2.00"/>
<path d="M57.00,421.11 L58.51,420.94 L60.01,420.78 L61.52,420.64 L63.03,420.51 L64.53,420.40 L66.04,420.30 L67.54,420.21 L69.05,420.13 L70.56,420.07 L72.06,420.02 L73.57,419.98 L75.08,419.96 L76.58,419.95 L78.09,419.95 L79.60,419.97 L81.10,419.99 L82.61,420.03 L84.11,420.09 L85.62,420.15 L87.13,420.23 L88.63,420.31 L90.14,420.42 L91.65,420.53 L93.15,420.65 L94.66,420.79 L96.17,420.94 L97.67,421.10 L99.18,421.27 L100.68,421.45 L102.19,421.65 L103.70,421.85 L105.20,422.07 L106.71,422.30 L108.22,422.54 L109.72,422.79 L111.23,423.05 L112.73,423.32 L114.24,423.61 L115.75,423.90 L117.25,424.20 L118.76,424.52 L120.27,424.84 L121.77,425.18 L123.28,425.53 L124.79,425.88 L126.29,426.25 L127.80,426.63 L129.30,427.01 L130.81,427.41 L132.32,427.82 L133.82,428.23 L135.33,428.66 L136.84,429.10 L138.34,429.54 L139.85,430.00 L141.36,430.46 L142.86,430.94 L144.37,431.42 L145.87,431.91 L147.38,432.41 L148.89,432.92 L150.39,433.44 L151.90,433.97 L153.41,434.51 L154.91,435.05 L156.42,435.60 L157.93,436.17 L159.43,436.74 L160.94,437.32 L162.44,437.90 L163.95,438.50 L165.46,439.10 L166.96,439.71 L168.47,440.32 L169.98,440.94 L171.48,441.56 L172.99,442.18 L174.50,442.81 L176.00,443.45 L177.51,444.08 L179.01,444.72 L180.52,445.36 L182.03,446.00 L183.53,446.64 L185.04,447.27 L186.55,447.91 L188.05,448.55 L189.56,449.19 L191.07,449.82 L192.57,450.45 L194.08,451.07 L195.58,451.70 L197.09,452.31 L198.60,452.93 L200.10,453.53 L201.61,454.14 L203.12,454.73 L204.62,455.32 L206.13,455.90 L207.63,456.47 L209.14,457.03 L210.65,457.58 L212.15,458.13 L213.66,458.66 L215.17,459.18 L216.67,459.69 L218.18,460.19 L219.69,460.68 L221.19,461.15 L222.70,461.61 L224.20,462.05 L225.71,462.48 L227.22,462.90 L228.72,463.30 L230.23,463.68 L231.74,464.05 L233.24,464.40 L234.75,464.73 L236.26,465.04 L237.76,465.34 L239.27,465.61 L240.77,465.87 L242.28,466.10 L243.79,466.31 L245.29,466.51 L246.80,466.67" fill="none" stroke="#0000FF" stroke-width="2.00" stroke-dasharray="4.8 1.7 2.4 1.7"/>
<path d="M328.60,398.50 L328.60,474.80 L544.80,474.80" fill="none" stroke="#262626" stroke-width="1.30"/>
<path d="M328.60,474.80 h2.2 M328.60,449.37 h2.2 M328.60,423.93 h2.2 M328.60,398.50 h2.2 M371.84,474.80 v-2.2 M415.08,474.80 v-2.2 M458.32,474.80 v-2.2 M501.56,474.80 v-2.2 M544.80,474.80 v-2.2" fill="none" stroke="#262626" stroke-width="1.30"/>
<text class="tk" x="323.50" y="479.10" text-anchor="end">-<tspan class="n1">1</tspan>.5</text>
<text class="tk" x="323.50" y="453.67" text-anchor="end">-<tspan class="n1">1</tspan></text>
<text class="tk" x="323.50" y="428.23" text-anchor="end">-0.5</text>
<text class="tk" x="323.50" y="402.80" text-anchor="end">0</text>
<text class="tk" x="328.60" y="491.60" text-anchor="middle">0</text>
<text class="tk" x="371.84" y="491.60" text-anchor="middle"><tspan class="n1">1</tspan></text>
<text class="tk" x="415.08" y="491.60" text-anchor="middle">2</text>
<text class="tk" x="458.32" y="491.60" text-anchor="middle">3</text>
<text class="tk" x="501.56" y="491.60" text-anchor="middle">4</text>
<text class="tk" x="544.80" y="491.60" text-anchor="middle">5</text>
<path d="M328.60,415.28 L330.11,415.29 L331.61,415.31 L333.12,415.32 L334.63,415.34 L336.13,415.36 L337.64,415.38 L339.14,415.40 L340.65,415.42 L342.16,415.44 L343.66,415.46 L345.17,415.49 L346.68,415.51 L348.18,415.54 L349.69,415.57 L351.20,415.60 L352.70,415.64 L354.21,415.67 L355.71,415.71 L357.22,415.75 L358.73,415.79 L360.23,415.84 L361.74,415.88 L363.25,415.93 L364.75,415.98 L366.26,416.04 L367.77,416.09 L369.27,416.15 L370.78,416.22 L372.28,416.28 L373.79,416.35 L375.30,416.42 L376.80,416.50 L378.31,416.58 L379.82,416.66 L381.32,416.74 L382.83,416.83 L384.33,416.93 L385.84,417.02 L387.35,417.12 L388.85,417.23 L390.36,417.34 L391.87,417.45 L393.37,417.57 L394.88,417.69 L396.39,417.81 L397.89,417.94 L399.40,418.08 L400.90,418.22 L402.41,418.36 L403.92,418.51 L405.42,418.66 L406.93,418.82 L408.44,418.98 L409.94,419.15 L411.45,419.33 L412.96,419.51 L414.46,419.69 L415.97,419.88 L417.47,420.08 L418.98,420.28 L420.49,420.49 L421.99,420.70 L423.50,420.92 L425.01,421.15 L426.51,421.38 L428.02,421.62 L429.53,421.86 L431.03,422.11 L432.54,422.37 L434.04,422.63 L435.55,422.90 L437.06,423.18 L438.56,423.46 L440.07,423.75 L441.58,424.05 L443.08,424.36 L444.59,424.67 L446.10,424.99 L447.60,425.32 L449.11,425.66 L450.61,426.02 L452.12,426.40 L453.63,426.81 L455.13,427.24 L456.64,427.70 L458.15,428.20 L459.65,428.74 L461.16,429.32 L462.67,429.94 L464.17,430.60 L465.68,431.30 L467.18,432.02 L468.69,432.78 L470.20,433.57 L471.70,434.37 L473.21,435.21 L474.72,436.06 L476.22,436.94 L477.73,437.84 L479.23,438.76 L480.74,439.70 L482.25,440.65 L483.75,441.62 L485.26,442.61 L486.77,443.61 L488.27,444.61 L489.78,445.63 L491.29,446.65 L492.79,447.68 L494.30,448.71 L495.80,449.75 L497.31,450.79 L498.82,451.82 L500.32,452.86 L501.83,453.89 L503.34,454.90 L504.84,455.88 L506.35,456.83 L507.86,457.73 L509.36,458.57 L510.87,459.35 L512.37,460.04 L513.88,460.64 L515.39,461.14 L516.89,461.53 L518.40,461.80" fill="none" stroke="#0072BD" stroke-width="2.00"/>
<path d="M328.60,409.94 L330.11,410.00 L331.61,410.07 L333.12,410.13 L334.63,410.19 L336.13,410.24 L337.64,410.28 L339.14,410.33 L340.65,410.37 L342.16,410.40 L343.66,410.44 L345.17,410.47 L346.68,410.49 L348.18,410.52 L349.69,410.54 L351.20,410.56 L352.70,410.58 L354.21,410.59 L355.71,410.61 L357.22,410.62 L358.73,410.63 L360.23,410.64 L361.74,410.64 L363.25,410.65 L364.75,410.66 L366.26,410.66 L367.77,410.67 L369.27,410.67 L370.78,410.68 L372.28,410.69 L373.79,410.69 L375.30,410.70 L376.80,410.71 L378.31,410.71 L379.82,410.72 L381.32,410.73 L382.83,410.75 L384.33,410.76 L385.84,410.78 L387.35,410.79 L388.85,410.82 L390.36,410.84 L391.87,410.86 L393.37,410.89 L394.88,410.92 L396.39,410.96 L397.89,411.00 L399.40,411.04 L400.90,411.08 L402.41,411.13 L403.92,411.19 L405.42,411.24 L406.93,411.31 L408.44,411.37 L409.94,411.44 L411.45,411.52 L412.96,411.60 L414.46,411.69 L415.97,411.78 L417.47,411.88 L418.98,411.99 L420.49,412.10 L421.99,412.22 L423.50,412.34 L425.01,412.47 L426.51,412.61 L428.02,412.76 L429.53,412.91 L431.03,413.07 L432.54,413.24 L434.04,413.41 L435.55,413.59 L437.06,413.79 L438.56,413.99 L440.07,414.19 L441.58,414.41 L443.08,414.64 L444.59,414.87 L446.10,415.12 L447.60,415.37 L449.11,415.64 L450.61,415.91 L452.12,416.20 L453.63,416.49 L455.13,416.80 L456.64,417.11 L458.15,417.44 L459.65,417.78 L461.16,418.13 L462.67,418.49 L464.17,418.86 L465.68,419.24 L467.18,419.64 L468.69,420.05 L470.20,420.47 L471.70,420.90 L473.21,421.34 L474.72,421.80 L476.22,422.27 L477.73,422.76 L479.23,423.26 L480.74,423.77 L482.25,424.29 L483.75,424.82 L485.26,425.36 L486.77,425.90 L488.27,426.46 L489.78,427.03 L491.29,427.60 L492.79,428.18 L494.30,428.76 L495.80,429.35 L497.31,429.94 L498.82,430.54 L500.32,431.14 L501.83,431.74 L503.34,432.33 L504.84,432.90 L506.35,433.44 L507.86,433.95 L509.36,434.41 L510.87,434.82 L512.37,435.17 L513.88,435.44 L515.39,435.63 L516.89,435.73 L518.40,435.73" fill="none" stroke="#D95319" stroke-width="2.00"/>
<path d="M328.60,413.99 L330.11,414.03 L331.61,414.07 L333.12,414.11 L334.63,414.15 L336.13,414.19 L337.64,414.23 L339.14,414.26 L340.65,414.30 L342.16,414.34 L343.66,414.37 L345.17,414.41 L346.68,414.44 L348.18,414.47 L349.69,414.51 L351.20,414.54 L352.70,414.58 L354.21,414.61 L355.71,414.65 L357.22,414.69 L358.73,414.72 L360.23,414.76 L361.74,414.80 L363.25,414.84 L364.75,414.88 L366.26,414.93 L367.77,414.97 L369.27,415.02 L370.78,415.07 L372.28,415.12 L373.79,415.17 L375.30,415.22 L376.80,415.28 L378.31,415.33 L379.82,415.39 L381.32,415.46 L382.83,415.52 L384.33,415.59 L385.84,415.66 L387.35,415.74 L388.85,415.81 L390.36,415.90 L391.87,415.98 L393.37,416.07 L394.88,416.16 L396.39,416.25 L397.89,416.35 L399.40,416.45 L400.90,416.56 L402.41,416.67 L403.92,416.79 L405.42,416.90 L406.93,417.03 L408.44,417.16 L409.94,417.29 L411.45,417.43 L412.96,417.57 L414.46,417.72 L415.97,417.87 L417.47,418.03 L418.98,418.20 L420.49,418.37 L421.99,418.54 L423.50,418.72 L425.01,418.91 L426.51,419.11 L428.02,419.31 L429.53,419.51 L431.03,419.72 L432.54,419.94 L434.04,420.17 L435.55,420.40 L437.06,420.64 L438.56,420.89 L440.07,421.14 L441.58,421.40 L443.08,421.67 L444.59,421.94 L446.10,422.23 L447.60,422.52 L449.11,422.83 L450.61,423.16 L452.12,423.51 L453.63,423.89 L455.13,424.30 L456.64,424.75 L458.15,425.24 L459.65,425.78 L461.16,426.36 L462.67,426.99 L464.17,427.66 L465.68,428.37 L467.18,429.12 L468.69,429.89 L470.20,430.68 L471.70,431.50 L473.21,432.33 L474.72,433.18 L476.22,434.06 L477.73,434.95 L479.23,435.86 L480.74,436.78 L482.25,437.72 L483.75,438.67 L485.26,439.63 L486.77,440.60 L488.27,441.57 L489.78,442.55 L491.29,443.52 L492.79,444.50 L494.30,445.47 L495.80,446.44 L497.31,447.40 L498.82,448.35 L500.32,449.29 L501.83,450.21 L503.34,451.12 L504.84,452.01 L506.35,452.88 L507.86,453.73 L509.36,454.56 L510.87,455.36 L512.37,456.13 L513.88,456.87 L515.39,457.57 L516.89,458.25 L518.40,458.88" fill="none" stroke="#000000" stroke-width="2.00" stroke-dasharray="5.4 5.3"/>
<path d="M328.60,408.44 L330.11,408.50 L331.61,408.56 L333.12,408.62 L334.63,408.68 L336.13,408.73 L337.64,408.77 L339.14,408.81 L340.65,408.85 L342.16,408.89 L343.66,408.93 L345.17,408.96 L346.68,408.99 L348.18,409.01 L349.69,409.04 L351.20,409.06 L352.70,409.08 L354.21,409.10 L355.71,409.12 L357.22,409.13 L358.73,409.15 L360.23,409.16 L361.74,409.17 L363.25,409.18 L364.75,409.19 L366.26,409.20 L367.77,409.21 L369.27,409.22 L370.78,409.23 L372.28,409.24 L373.79,409.25 L375.30,409.26 L376.80,409.27 L378.31,409.29 L379.82,409.30 L381.32,409.31 L382.83,409.33 L384.33,409.34 L385.84,409.36 L387.35,409.38 L388.85,409.40 L390.36,409.43 L391.87,409.45 L393.37,409.48 L394.88,409.51 L396.39,409.55 L397.89,409.58 L399.40,409.62 L400.90,409.66 L402.41,409.71 L403.92,409.76 L405.42,409.81 L406.93,409.87 L408.44,409.93 L409.94,409.99 L411.45,410.06 L412.96,410.13 L414.46,410.21 L415.97,410.29 L417.47,410.38 L418.98,410.47 L420.49,410.57 L421.99,410.67 L423.50,410.78 L425.01,410.90 L426.51,411.02 L428.02,411.14 L429.53,411.27 L431.03,411.41 L432.54,411.56 L434.04,411.71 L435.55,411.87 L437.06,412.03 L438.56,412.20 L440.07,412.38 L441.58,412.57 L443.08,412.77 L444.59,412.97 L446.10,413.18 L447.60,413.40 L449.11,413.62 L450.61,413.86 L452.12,414.10 L453.63,414.35 L455.13,414.61 L456.64,414.88 L458.15,415.16 L459.65,415.45 L461.16,415.74 L462.67,416.05 L464.17,416.37 L465.68,416.70 L467.18,417.03 L468.69,417.38 L470.20,417.74 L471.70,418.10 L473.21,418.48 L474.72,418.87 L476.22,419.27 L477.73,419.68 L479.23,420.11 L480.74,420.54 L482.25,420.97 L483.75,421.42 L485.26,421.87 L486.77,422.32 L488.27,422.78 L489.78,423.24 L491.29,423.70 L492.79,424.15 L494.30,424.61 L495.80,425.07 L497.31,425.52 L498.82,425.96 L500.32,426.40 L501.83,426.83 L503.34,427.25 L504.84,427.64 L506.35,428.01 L507.86,428.33 L509.36,428.62 L510.87,428.85 L512.37,429.03 L513.88,429.14 L515.39,429.18 L516.89,429.15 L518.40,429.02" fill="none" stroke="#0000FF" stroke-width="2.00" stroke-dasharray="4.8 1.7 2.4 1.7"/>
<text class="yl" text-anchor="middle" transform="translate(20.25,55.05) rotate(-90) scale(1.0542,1)"><tspan class="i">h</tspan>(<tspan class="i">m</tspan>)</text>
<text class="yl" text-anchor="middle" transform="translate(28.80,150.50) rotate(-90) scale(1.0176,1)"><tspan class="i">c</tspan>(<tspan class="i">m</tspan>/<tspan class="i">s</tspan>)</text>
<text class="yl" text-anchor="middle" transform="translate(28.40,246.43) rotate(-90) scale(0.9667,1)"><tspan class="i">Q</tspan></text>
<text class="yl" text-anchor="middle" transform="translate(12.90,341.65) rotate(-90) scale(1.0700,1)"><tspan class="i">&#956;</tspan>(<tspan class="i">s</tspan><tspan class="s2" dy="-3.5">&#8722;1</tspan><tspan dy="3.5">)</tspan></text>
<text class="yl" text-anchor="middle" transform="translate(37.90,436.35) rotate(-90) scale(1.0395,1)"><tspan class="i">&#948;</tspan>(<tspan class="i">m</tspan><tspan class="s2" dy="-3.5">3</tspan><tspan dy="3.5">/</tspan><tspan class="i">s</tspan>)</text>
<text class="yl" text-anchor="middle" transform="translate(305.40,55.05) rotate(-90) scale(1.0567,1)"><tspan class="i">&#963;</tspan>(<tspan class="i">s</tspan><tspan class="s2" dy="-3.5">&#8722;1</tspan><tspan dy="3.5">)</tspan></text>
<text class="yl" text-anchor="middle" transform="translate(297.75,150.75) rotate(-90) scale(1.1313,1)"><tspan class="i">&#945;</tspan>(<tspan class="i">m</tspan><tspan class="s2" dy="-3.5">&#8722;1</tspan><tspan class="i" dy="3.5">s</tspan><tspan class="s2" dy="-3.5">&#8722;2</tspan><tspan dy="3.5">)</tspan></text>
<text class="yl" text-anchor="middle" transform="translate(305.10,246.25) rotate(-90) scale(1.0833,1)"><tspan class="i">&#946;</tspan>(<tspan class="i">s</tspan><tspan class="s2" dy="-3.5">&#8722;3</tspan><tspan dy="3.5">)</tspan></text>
<text class="yl" text-anchor="middle" transform="translate(293.90,340.40) rotate(-90) scale(1.0000,1)"><tspan class="i">R</tspan></text>
<text class="yl" text-anchor="middle" transform="translate(296.40,437.10) rotate(-90) scale(1.0958,1)"><tspan class="i">&#945;</tspan>(<tspan class="i">m</tspan><tspan class="s2" dy="-3.5">&#8722;1</tspan><tspan class="i" dy="3.5">s</tspan><tspan class="s2" dy="-3.5">&#8722;2</tspan><tspan dy="3.5">)</tspan></text>
<text class="yl" text-anchor="middle" transform="translate(296.85,460.05) rotate(-90) scale(0.9750,1)">&#732;</text>
<text class="xl" x="152.00" y="504.80">x(m)</text>
<text class="xl" x="423.40" y="504.60">x(m)</text>
<text class="ex" x="329.05" y="15.55">&#215;</text>
<text class="tk" x="336.35" y="14.15"><tspan class="n1">1</tspan>0</text>
<text class="es" x="349.30" y="8.25">-7</text>
<text class="ex" x="329.05" y="206.65">&#215;</text>
<text class="tk" x="336.35" y="205.25"><tspan class="n1">1</tspan>0</text>
<text class="es" x="349.30" y="199.35">-7</text>
<text class="ex" x="57.65" y="397.65">&#215;</text>
<text class="tk" x="64.80" y="396.35"><tspan class="n1">1</tspan>0</text>
<text class="es" x="77.65" y="390.75">5</text>
<text class="ex" x="248.20" y="510.75">&#215;</text>
<text class="tk" x="255.65" y="509.65"><tspan class="n1">1</tspan>0</text>
<text class="es" x="268.50" y="504.00">5</text>
<text class="ex" x="519.80" y="510.75">&#215;</text>
<text class="tk" x="527.55" y="509.40"><tspan class="n1">1</tspan>0</text>
<text class="es" x="539.65" y="504.00">5</text>
</svg>
</body></html>
